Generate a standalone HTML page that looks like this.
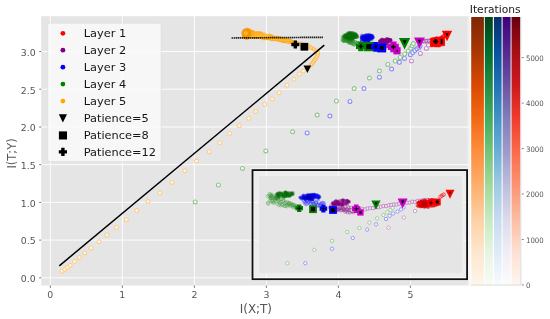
<!DOCTYPE html>
<html><head><meta charset="utf-8"><title>Information plane</title>
<style>html,body{margin:0;padding:0;background:#fff;}svg{display:block;filter:blur(0.4px);}</style></head>
<body>
<svg width="550" height="319" viewBox="0 0 550 319" font-family="'DejaVu Sans', 'Liberation Sans', sans-serif">
<defs>
<linearGradient id="Oranges" x1="0" y1="1" x2="0" y2="0">
<stop offset="0.000" stop-color="#fff5eb"/>
<stop offset="0.125" stop-color="#fee6ce"/>
<stop offset="0.250" stop-color="#fdd0a2"/>
<stop offset="0.375" stop-color="#fdae6b"/>
<stop offset="0.500" stop-color="#fd8d3c"/>
<stop offset="0.625" stop-color="#f16913"/>
<stop offset="0.750" stop-color="#d94801"/>
<stop offset="0.875" stop-color="#a63603"/>
<stop offset="1.000" stop-color="#7f2704"/>
</linearGradient>
<linearGradient id="Greens" x1="0" y1="1" x2="0" y2="0">
<stop offset="0.000" stop-color="#f7fcf5"/>
<stop offset="0.125" stop-color="#e5f5e0"/>
<stop offset="0.250" stop-color="#c7e9c0"/>
<stop offset="0.375" stop-color="#a1d99b"/>
<stop offset="0.500" stop-color="#74c476"/>
<stop offset="0.625" stop-color="#41ab5d"/>
<stop offset="0.750" stop-color="#238b45"/>
<stop offset="0.875" stop-color="#006d2c"/>
<stop offset="1.000" stop-color="#00441b"/>
</linearGradient>
<linearGradient id="Blues" x1="0" y1="1" x2="0" y2="0">
<stop offset="0.000" stop-color="#f7fbff"/>
<stop offset="0.125" stop-color="#deebf7"/>
<stop offset="0.250" stop-color="#c6dbef"/>
<stop offset="0.375" stop-color="#9ecae1"/>
<stop offset="0.500" stop-color="#6baed6"/>
<stop offset="0.625" stop-color="#4292c6"/>
<stop offset="0.750" stop-color="#2171b5"/>
<stop offset="0.875" stop-color="#08519c"/>
<stop offset="1.000" stop-color="#08306b"/>
</linearGradient>
<linearGradient id="Purples" x1="0" y1="1" x2="0" y2="0">
<stop offset="0.000" stop-color="#fcfbfd"/>
<stop offset="0.125" stop-color="#efedf5"/>
<stop offset="0.250" stop-color="#dadaeb"/>
<stop offset="0.375" stop-color="#bcbddc"/>
<stop offset="0.500" stop-color="#9e9ac8"/>
<stop offset="0.625" stop-color="#807dba"/>
<stop offset="0.750" stop-color="#6a51a3"/>
<stop offset="0.875" stop-color="#54278f"/>
<stop offset="1.000" stop-color="#3f007d"/>
</linearGradient>
<linearGradient id="Reds" x1="0" y1="1" x2="0" y2="0">
<stop offset="0.000" stop-color="#fff5f0"/>
<stop offset="0.125" stop-color="#fee0d2"/>
<stop offset="0.250" stop-color="#fcbba1"/>
<stop offset="0.375" stop-color="#fc9272"/>
<stop offset="0.500" stop-color="#fb6a4a"/>
<stop offset="0.625" stop-color="#ef3b2c"/>
<stop offset="0.750" stop-color="#cb181d"/>
<stop offset="0.875" stop-color="#a50f15"/>
<stop offset="1.000" stop-color="#67000d"/>
</linearGradient>
<clipPath id="axc"><rect x="41.2" y="16.2" width="428.3" height="269.3"/></clipPath>
</defs>
<rect width="550" height="319" fill="#fff"/>
<rect x="41.2" y="16.2" width="428.3" height="269.3" fill="#e5e5e5"/>
<line x1="50.3" y1="16.2" x2="50.3" y2="285.5" stroke="#fff" stroke-width="0.9"/>
<line x1="122.3" y1="16.2" x2="122.3" y2="285.5" stroke="#fff" stroke-width="0.9"/>
<line x1="194.4" y1="16.2" x2="194.4" y2="285.5" stroke="#fff" stroke-width="0.9"/>
<line x1="266.4" y1="16.2" x2="266.4" y2="285.5" stroke="#fff" stroke-width="0.9"/>
<line x1="338.4" y1="16.2" x2="338.4" y2="285.5" stroke="#fff" stroke-width="0.9"/>
<line x1="410.4" y1="16.2" x2="410.4" y2="285.5" stroke="#fff" stroke-width="0.9"/>
<line x1="41.2" y1="277.8" x2="469.5" y2="277.8" stroke="#fff" stroke-width="0.9"/>
<line x1="41.2" y1="240.1" x2="469.5" y2="240.1" stroke="#fff" stroke-width="0.9"/>
<line x1="41.2" y1="202.4" x2="469.5" y2="202.4" stroke="#fff" stroke-width="0.9"/>
<line x1="41.2" y1="164.7" x2="469.5" y2="164.7" stroke="#fff" stroke-width="0.9"/>
<line x1="41.2" y1="127.0" x2="469.5" y2="127.0" stroke="#fff" stroke-width="0.9"/>
<line x1="41.2" y1="89.2" x2="469.5" y2="89.2" stroke="#fff" stroke-width="0.9"/>
<line x1="41.2" y1="51.5" x2="469.5" y2="51.5" stroke="#fff" stroke-width="0.9"/>
<line x1="50.3" y1="285.5" x2="50.3" y2="287.9" stroke="#555" stroke-width="0.8"/>
<text x="50.3" y="298.2" font-size="9.4" fill="#555" text-anchor="middle">0</text>
<line x1="122.3" y1="285.5" x2="122.3" y2="287.9" stroke="#555" stroke-width="0.8"/>
<text x="122.3" y="298.2" font-size="9.4" fill="#555" text-anchor="middle">1</text>
<line x1="194.4" y1="285.5" x2="194.4" y2="287.9" stroke="#555" stroke-width="0.8"/>
<text x="194.4" y="298.2" font-size="9.4" fill="#555" text-anchor="middle">2</text>
<line x1="266.4" y1="285.5" x2="266.4" y2="287.9" stroke="#555" stroke-width="0.8"/>
<text x="266.4" y="298.2" font-size="9.4" fill="#555" text-anchor="middle">3</text>
<line x1="338.4" y1="285.5" x2="338.4" y2="287.9" stroke="#555" stroke-width="0.8"/>
<text x="338.4" y="298.2" font-size="9.4" fill="#555" text-anchor="middle">4</text>
<line x1="410.4" y1="285.5" x2="410.4" y2="287.9" stroke="#555" stroke-width="0.8"/>
<text x="410.4" y="298.2" font-size="9.4" fill="#555" text-anchor="middle">5</text>
<line x1="39.2" y1="277.8" x2="41.2" y2="277.8" stroke="#555" stroke-width="0.8"/>
<text x="35.7" y="282.1" font-size="9.4" fill="#555" text-anchor="end">0.0</text>
<line x1="39.2" y1="240.1" x2="41.2" y2="240.1" stroke="#555" stroke-width="0.8"/>
<text x="35.7" y="244.4" font-size="9.4" fill="#555" text-anchor="end">0.5</text>
<line x1="39.2" y1="202.4" x2="41.2" y2="202.4" stroke="#555" stroke-width="0.8"/>
<text x="35.7" y="206.7" font-size="9.4" fill="#555" text-anchor="end">1.0</text>
<line x1="39.2" y1="164.7" x2="41.2" y2="164.7" stroke="#555" stroke-width="0.8"/>
<text x="35.7" y="169.0" font-size="9.4" fill="#555" text-anchor="end">1.5</text>
<line x1="39.2" y1="127.0" x2="41.2" y2="127.0" stroke="#555" stroke-width="0.8"/>
<text x="35.7" y="131.3" font-size="9.4" fill="#555" text-anchor="end">2.0</text>
<line x1="39.2" y1="89.2" x2="41.2" y2="89.2" stroke="#555" stroke-width="0.8"/>
<text x="35.7" y="93.5" font-size="9.4" fill="#555" text-anchor="end">2.5</text>
<line x1="39.2" y1="51.5" x2="41.2" y2="51.5" stroke="#555" stroke-width="0.8"/>
<text x="35.7" y="55.8" font-size="9.4" fill="#555" text-anchor="end">3.0</text>
<text x="255.9" y="312.6" font-size="11.9" fill="#555" text-anchor="middle">I(X;T)</text>
<text transform="translate(16.3,153.4) rotate(-90)" font-size="11.5" fill="#555" text-anchor="middle">I(T;Y)</text>
<g clip-path="url(#axc)">
<circle cx="62.0" cy="271.2" r="1.95" fill="#fff6ea" stroke="#fbd08c" stroke-width="1.1"/>
<circle cx="64.8" cy="269.4" r="1.95" fill="#fff6ea" stroke="#fbd08c" stroke-width="1.1"/>
<circle cx="67.5" cy="267.4" r="1.95" fill="#fff6ea" stroke="#fbd08c" stroke-width="1.1"/>
<circle cx="70.2" cy="265.3" r="1.95" fill="#fff6ea" stroke="#fbd08c" stroke-width="1.1"/>
<circle cx="74.5" cy="261.5" r="1.95" fill="#fff6ea" stroke="#fbd08c" stroke-width="1.1"/>
<circle cx="79.4" cy="257.4" r="1.95" fill="#fff6ea" stroke="#fbd08c" stroke-width="1.1"/>
<circle cx="84.6" cy="253.0" r="1.95" fill="#fff6ea" stroke="#fbd08c" stroke-width="1.1"/>
<circle cx="91.1" cy="247.9" r="1.95" fill="#fff6ea" stroke="#fbd08c" stroke-width="1.1"/>
<circle cx="99.0" cy="241.7" r="1.95" fill="#fff6ea" stroke="#fbd08c" stroke-width="1.1"/>
<circle cx="106.9" cy="235.0" r="1.95" fill="#fff6ea" stroke="#fbd08c" stroke-width="1.1"/>
<circle cx="116.4" cy="227.4" r="1.95" fill="#fff6ea" stroke="#fbd08c" stroke-width="1.1"/>
<circle cx="126.3" cy="219.7" r="1.95" fill="#fff6ea" stroke="#fbd08c" stroke-width="1.1"/>
<circle cx="136.8" cy="210.6" r="1.95" fill="#fff6ea" stroke="#fbd08c" stroke-width="1.1"/>
<circle cx="148.1" cy="201.6" r="1.95" fill="#fff6ea" stroke="#fbd08c" stroke-width="1.1"/>
<circle cx="159.8" cy="192.8" r="1.95" fill="#fff6ea" stroke="#fbd08c" stroke-width="1.1"/>
<circle cx="172.0" cy="182.4" r="1.95" fill="#fff6ea" stroke="#fbd08c" stroke-width="1.1"/>
<circle cx="184.9" cy="170.8" r="1.95" fill="#fff6ea" stroke="#fbd08c" stroke-width="1.1"/>
<circle cx="196.5" cy="161.1" r="1.95" fill="#fff6ea" stroke="#fbd08c" stroke-width="1.1"/>
<circle cx="209.2" cy="151.7" r="1.95" fill="#fff6ea" stroke="#fbd08c" stroke-width="1.1"/>
<circle cx="219.8" cy="142.7" r="1.95" fill="#fff6ea" stroke="#fbd08c" stroke-width="1.1"/>
<circle cx="229.7" cy="133.5" r="1.95" fill="#fff6ea" stroke="#fbd08c" stroke-width="1.1"/>
<circle cx="239.4" cy="125.8" r="1.95" fill="#fff6ea" stroke="#fbd08c" stroke-width="1.1"/>
<circle cx="248.7" cy="118.3" r="1.95" fill="#fff6ea" stroke="#fbd08c" stroke-width="1.1"/>
<circle cx="255.8" cy="111.6" r="1.95" fill="#fff6ea" stroke="#fbd08c" stroke-width="1.1"/>
<circle cx="264.7" cy="104.3" r="1.95" fill="#fff6ea" stroke="#fbd08c" stroke-width="1.1"/>
<circle cx="272.2" cy="98.9" r="1.95" fill="#fff6ea" stroke="#fbd08c" stroke-width="1.1"/>
<circle cx="279.2" cy="92.7" r="1.95" fill="#fff6ea" stroke="#fbd08c" stroke-width="1.1"/>
<circle cx="287.1" cy="85.2" r="1.95" fill="#fff6ea" stroke="#fbd08c" stroke-width="1.1"/>
<circle cx="294.0" cy="79.3" r="1.95" fill="#fff6ea" stroke="#fbd08c" stroke-width="1.1"/>
<circle cx="299.5" cy="74.0" r="1.95" fill="#fff6ea" stroke="#fbd08c" stroke-width="1.1"/>
<circle cx="303.5" cy="71.1" r="1.95" fill="#fff6ea" stroke="#fbd08c" stroke-width="1.1"/>
<circle cx="307.5" cy="68.4" r="1.95" fill="#fff6ea" stroke="#fbd08c" stroke-width="1.1"/>
<circle cx="310.4" cy="65.6" r="1.75" fill="#ffe9c6" stroke="#fdb94a" stroke-width="1.0"/>
<circle cx="311.9" cy="63.9" r="1.75" fill="#ffe9c6" stroke="#fdb94a" stroke-width="1.0"/>
<circle cx="313.0" cy="62.4" r="1.75" fill="#ffe9c6" stroke="#fdb94a" stroke-width="1.0"/>
<circle cx="314.0" cy="61.0" r="1.75" fill="#ffe9c6" stroke="#fdb94a" stroke-width="1.0"/>
<circle cx="315.0" cy="59.6" r="1.75" fill="#ffe9c6" stroke="#fdb94a" stroke-width="1.0"/>
<circle cx="316.0" cy="58.2" r="1.75" fill="#ffe9c6" stroke="#fdb94a" stroke-width="1.0"/>
<circle cx="317.0" cy="56.5" r="1.75" fill="#ffe9c6" stroke="#fdb94a" stroke-width="1.0"/>
<circle cx="317.8" cy="54.6" r="1.75" fill="#ffe9c6" stroke="#fdb94a" stroke-width="1.0"/>
<circle cx="317.8" cy="52.6" r="1.75" fill="#ffe9c6" stroke="#fdb94a" stroke-width="1.0"/>
<circle cx="316.2" cy="50.9" r="1.75" fill="#ffe9c6" stroke="#fdb94a" stroke-width="1.0"/>
<circle cx="313.6" cy="49.2" r="1.75" fill="#ffd58f" stroke="#fdb94a" stroke-width="1.0"/>
<circle cx="311.0" cy="47.6" r="1.75" fill="#ffd58f" stroke="#fdb94a" stroke-width="1.0"/>
<circle cx="308.6" cy="46.2" r="1.75" fill="#ffd58f" stroke="#fdb94a" stroke-width="1.0"/>
<circle cx="306.0" cy="45.3" r="1.75" fill="#ffd58f" stroke="#fdb94a" stroke-width="1.0"/>
<circle cx="303.4" cy="44.6" r="1.75" fill="#ffd58f" stroke="#fdb94a" stroke-width="1.0"/>
<circle cx="300.8" cy="44.0" r="1.75" fill="#ffd58f" stroke="#fdb94a" stroke-width="1.0"/>
<circle cx="298.2" cy="43.4" r="1.75" fill="#ffd58f" stroke="#fdb94a" stroke-width="1.0"/>
<circle cx="295.6" cy="42.8" r="1.75" fill="#ffd58f" stroke="#fdb94a" stroke-width="1.0"/>
<circle cx="293.0" cy="42.2" r="1.75" fill="#ffd58f" stroke="#fdb94a" stroke-width="1.0"/>
<circle cx="290.4" cy="41.6" r="1.75" fill="#ffd58f" stroke="#fdb94a" stroke-width="1.0"/>
<circle cx="287.8" cy="41.0" r="1.75" fill="#ffd58f" stroke="#fdb94a" stroke-width="1.0"/>
<circle cx="285.2" cy="40.4" r="1.75" fill="#ffd58f" stroke="#fdb94a" stroke-width="1.0"/>
<circle cx="291.0" cy="42.1" r="2.3" fill="#ffa500" fill-opacity="0.5"/>
<circle cx="290.6" cy="41.8" r="2.3" fill="#ffa500" fill-opacity="0.5"/>
<circle cx="290.2" cy="42.0" r="2.3" fill="#ffa500" fill-opacity="0.5"/>
<circle cx="289.8" cy="41.4" r="2.3" fill="#ffa500" fill-opacity="0.5"/>
<circle cx="289.5" cy="41.7" r="2.3" fill="#ffa500" fill-opacity="0.5"/>
<circle cx="289.1" cy="41.5" r="2.3" fill="#ffa500" fill-opacity="0.5"/>
<circle cx="288.7" cy="41.1" r="2.3" fill="#ffa500" fill-opacity="0.5"/>
<circle cx="288.3" cy="41.4" r="2.3" fill="#ffa500" fill-opacity="0.5"/>
<circle cx="287.9" cy="40.8" r="2.3" fill="#ffa500" fill-opacity="0.5"/>
<circle cx="287.5" cy="41.1" r="2.3" fill="#ffa500" fill-opacity="0.5"/>
<circle cx="287.1" cy="40.6" r="2.3" fill="#ffa500" fill-opacity="0.5"/>
<circle cx="286.8" cy="40.5" r="2.3" fill="#ffa500" fill-opacity="0.5"/>
<circle cx="286.4" cy="40.8" r="2.3" fill="#ffa500" fill-opacity="0.5"/>
<circle cx="286.0" cy="41.2" r="2.3" fill="#ffa500" fill-opacity="0.5"/>
<circle cx="285.6" cy="40.3" r="2.3" fill="#ffa500" fill-opacity="0.5"/>
<circle cx="285.2" cy="40.3" r="2.3" fill="#ffa500" fill-opacity="0.5"/>
<circle cx="284.8" cy="40.7" r="2.3" fill="#ffa500" fill-opacity="0.5"/>
<circle cx="284.4" cy="41.0" r="2.3" fill="#ffa500" fill-opacity="0.5"/>
<circle cx="284.1" cy="40.4" r="2.3" fill="#ffa500" fill-opacity="0.5"/>
<circle cx="283.7" cy="40.1" r="2.3" fill="#ffa500" fill-opacity="0.5"/>
<circle cx="283.3" cy="40.8" r="2.3" fill="#ffa500" fill-opacity="0.5"/>
<circle cx="282.9" cy="39.4" r="2.3" fill="#ffa500" fill-opacity="0.5"/>
<circle cx="282.5" cy="40.5" r="2.3" fill="#ffa500" fill-opacity="0.5"/>
<circle cx="282.1" cy="39.6" r="2.3" fill="#ffa500" fill-opacity="0.5"/>
<circle cx="281.8" cy="39.3" r="2.3" fill="#ffa500" fill-opacity="0.5"/>
<circle cx="281.4" cy="39.1" r="2.3" fill="#ffa500" fill-opacity="0.5"/>
<circle cx="281.0" cy="39.3" r="2.3" fill="#ffa500" fill-opacity="0.5"/>
<circle cx="280.6" cy="40.1" r="2.3" fill="#ffa500" fill-opacity="0.5"/>
<circle cx="280.2" cy="38.9" r="2.3" fill="#ffa500" fill-opacity="0.5"/>
<circle cx="279.8" cy="39.6" r="2.3" fill="#ffa500" fill-opacity="0.5"/>
<circle cx="279.4" cy="39.6" r="2.3" fill="#ffa500" fill-opacity="0.5"/>
<circle cx="279.1" cy="39.0" r="2.3" fill="#ffa500" fill-opacity="0.5"/>
<circle cx="278.7" cy="39.3" r="2.3" fill="#ffa500" fill-opacity="0.5"/>
<circle cx="278.3" cy="38.2" r="2.3" fill="#ffa500" fill-opacity="0.5"/>
<circle cx="277.9" cy="38.1" r="2.3" fill="#ffa500" fill-opacity="0.5"/>
<circle cx="277.5" cy="38.3" r="2.3" fill="#ffa500" fill-opacity="0.5"/>
<circle cx="277.1" cy="39.2" r="2.3" fill="#ffa500" fill-opacity="0.5"/>
<circle cx="276.7" cy="38.6" r="2.3" fill="#ffa500" fill-opacity="0.5"/>
<circle cx="276.4" cy="38.3" r="2.3" fill="#ffa500" fill-opacity="0.5"/>
<circle cx="276.0" cy="38.8" r="2.3" fill="#ffa500" fill-opacity="0.5"/>
<circle cx="275.6" cy="38.4" r="2.3" fill="#ffa500" fill-opacity="0.5"/>
<circle cx="275.2" cy="38.0" r="2.3" fill="#ffa500" fill-opacity="0.5"/>
<circle cx="274.8" cy="39.1" r="2.3" fill="#ffa500" fill-opacity="0.5"/>
<circle cx="274.4" cy="38.8" r="2.3" fill="#ffa500" fill-opacity="0.5"/>
<circle cx="274.0" cy="37.6" r="2.3" fill="#ffa500" fill-opacity="0.5"/>
<circle cx="273.7" cy="38.3" r="2.3" fill="#ffa500" fill-opacity="0.5"/>
<circle cx="273.3" cy="38.1" r="2.3" fill="#ffa500" fill-opacity="0.5"/>
<circle cx="272.9" cy="39.0" r="2.3" fill="#ffa500" fill-opacity="0.5"/>
<circle cx="272.5" cy="38.5" r="2.3" fill="#ffa500" fill-opacity="0.5"/>
<circle cx="272.1" cy="37.3" r="2.3" fill="#ffa500" fill-opacity="0.5"/>
<circle cx="271.7" cy="39.1" r="2.3" fill="#ffa500" fill-opacity="0.5"/>
<circle cx="271.3" cy="36.6" r="2.3" fill="#ffa500" fill-opacity="0.5"/>
<circle cx="271.0" cy="37.4" r="2.3" fill="#ffa500" fill-opacity="0.5"/>
<circle cx="270.6" cy="38.3" r="2.3" fill="#ffa500" fill-opacity="0.5"/>
<circle cx="270.2" cy="36.4" r="2.3" fill="#ffa500" fill-opacity="0.5"/>
<circle cx="269.8" cy="37.4" r="2.3" fill="#ffa500" fill-opacity="0.5"/>
<circle cx="269.4" cy="35.9" r="2.3" fill="#ffa500" fill-opacity="0.5"/>
<circle cx="269.0" cy="37.8" r="2.3" fill="#ffa500" fill-opacity="0.5"/>
<circle cx="268.7" cy="38.0" r="2.3" fill="#ffa500" fill-opacity="0.5"/>
<circle cx="268.3" cy="37.3" r="2.3" fill="#ffa500" fill-opacity="0.5"/>
<circle cx="267.9" cy="38.3" r="2.3" fill="#ffa500" fill-opacity="0.5"/>
<circle cx="267.5" cy="36.3" r="2.3" fill="#ffa500" fill-opacity="0.5"/>
<circle cx="267.1" cy="37.5" r="2.3" fill="#ffa500" fill-opacity="0.5"/>
<circle cx="266.7" cy="37.1" r="2.3" fill="#ffa500" fill-opacity="0.5"/>
<circle cx="266.3" cy="37.0" r="2.3" fill="#ffa500" fill-opacity="0.5"/>
<circle cx="266.0" cy="36.5" r="2.3" fill="#ffa500" fill-opacity="0.5"/>
<circle cx="265.6" cy="37.8" r="2.3" fill="#ffa500" fill-opacity="0.5"/>
<circle cx="265.2" cy="38.1" r="2.3" fill="#ffa500" fill-opacity="0.5"/>
<circle cx="264.8" cy="36.3" r="2.3" fill="#ffa500" fill-opacity="0.5"/>
<circle cx="264.4" cy="37.0" r="2.3" fill="#ffa500" fill-opacity="0.5"/>
<circle cx="264.0" cy="34.6" r="2.3" fill="#ffa500" fill-opacity="0.5"/>
<circle cx="263.6" cy="37.0" r="2.3" fill="#ffa500" fill-opacity="0.5"/>
<circle cx="263.3" cy="36.7" r="2.3" fill="#ffa500" fill-opacity="0.5"/>
<circle cx="262.9" cy="38.1" r="2.3" fill="#ffa500" fill-opacity="0.5"/>
<circle cx="262.5" cy="37.3" r="2.3" fill="#ffa500" fill-opacity="0.5"/>
<circle cx="262.1" cy="35.1" r="2.3" fill="#ffa500" fill-opacity="0.5"/>
<circle cx="261.7" cy="35.4" r="2.3" fill="#ffa500" fill-opacity="0.5"/>
<circle cx="261.3" cy="36.5" r="2.3" fill="#ffa500" fill-opacity="0.5"/>
<circle cx="260.9" cy="33.7" r="2.3" fill="#ffa500" fill-opacity="0.5"/>
<circle cx="260.6" cy="35.5" r="2.3" fill="#ffa500" fill-opacity="0.5"/>
<circle cx="260.2" cy="34.1" r="2.3" fill="#ffa500" fill-opacity="0.5"/>
<circle cx="259.8" cy="33.8" r="2.3" fill="#ffa500" fill-opacity="0.5"/>
<circle cx="259.4" cy="33.5" r="2.3" fill="#ffa500" fill-opacity="0.5"/>
<circle cx="259.0" cy="36.6" r="2.3" fill="#ffa500" fill-opacity="0.5"/>
<circle cx="258.6" cy="33.6" r="2.3" fill="#ffa500" fill-opacity="0.5"/>
<circle cx="258.2" cy="34.1" r="2.3" fill="#ffa500" fill-opacity="0.5"/>
<circle cx="257.9" cy="34.6" r="2.3" fill="#ffa500" fill-opacity="0.5"/>
<circle cx="257.5" cy="36.9" r="2.3" fill="#ffa500" fill-opacity="0.5"/>
<circle cx="257.1" cy="33.0" r="2.3" fill="#ffa500" fill-opacity="0.5"/>
<circle cx="256.7" cy="34.7" r="2.3" fill="#ffa500" fill-opacity="0.5"/>
<circle cx="256.3" cy="35.1" r="2.3" fill="#ffa500" fill-opacity="0.5"/>
<circle cx="255.9" cy="36.8" r="2.3" fill="#ffa500" fill-opacity="0.5"/>
<circle cx="255.6" cy="36.4" r="2.3" fill="#ffa500" fill-opacity="0.5"/>
<circle cx="255.2" cy="36.6" r="2.3" fill="#ffa500" fill-opacity="0.5"/>
<circle cx="254.8" cy="33.5" r="2.3" fill="#ffa500" fill-opacity="0.5"/>
<circle cx="254.4" cy="34.1" r="2.3" fill="#ffa500" fill-opacity="0.5"/>
<circle cx="254.0" cy="33.7" r="2.3" fill="#ffa500" fill-opacity="0.5"/>
<circle cx="253.6" cy="36.5" r="2.3" fill="#ffa500" fill-opacity="0.5"/>
<circle cx="253.2" cy="36.9" r="2.3" fill="#ffa500" fill-opacity="0.5"/>
<circle cx="252.9" cy="32.3" r="2.3" fill="#ffa500" fill-opacity="0.5"/>
<circle cx="252.5" cy="32.4" r="2.3" fill="#ffa500" fill-opacity="0.5"/>
<circle cx="252.1" cy="32.6" r="2.3" fill="#ffa500" fill-opacity="0.5"/>
<circle cx="251.7" cy="32.5" r="2.3" fill="#ffa500" fill-opacity="0.5"/>
<circle cx="251.3" cy="33.9" r="2.3" fill="#ffa500" fill-opacity="0.5"/>
<circle cx="250.9" cy="34.5" r="2.3" fill="#ffa500" fill-opacity="0.5"/>
<circle cx="250.5" cy="32.5" r="2.3" fill="#ffa500" fill-opacity="0.5"/>
<circle cx="250.2" cy="30.8" r="2.3" fill="#ffa500" fill-opacity="0.5"/>
<circle cx="249.8" cy="33.2" r="2.3" fill="#ffa500" fill-opacity="0.5"/>
<circle cx="249.4" cy="32.9" r="2.3" fill="#ffa500" fill-opacity="0.5"/>
<circle cx="249.0" cy="34.0" r="2.3" fill="#ffa500" fill-opacity="0.5"/>
<circle cx="248.4" cy="32.8" r="2.5" fill="#f79600" fill-opacity="0.4"/>
<circle cx="244.4" cy="33.5" r="2.5" fill="#f79600" fill-opacity="0.4"/>
<circle cx="246.1" cy="33.0" r="2.5" fill="#f79600" fill-opacity="0.4"/>
<circle cx="248.2" cy="31.7" r="2.5" fill="#f79600" fill-opacity="0.4"/>
<circle cx="248.0" cy="31.2" r="2.5" fill="#f79600" fill-opacity="0.4"/>
<circle cx="245.1" cy="35.4" r="2.5" fill="#f79600" fill-opacity="0.4"/>
<circle cx="248.0" cy="35.8" r="2.5" fill="#f79600" fill-opacity="0.4"/>
<circle cx="247.0" cy="34.2" r="2.5" fill="#f79600" fill-opacity="0.4"/>
<circle cx="246.7" cy="35.4" r="2.5" fill="#f79600" fill-opacity="0.4"/>
<circle cx="246.1" cy="34.6" r="2.5" fill="#f79600" fill-opacity="0.4"/>
<circle cx="247.4" cy="33.8" r="2.5" fill="#f79600" fill-opacity="0.4"/>
<circle cx="247.6" cy="35.3" r="2.5" fill="#f79600" fill-opacity="0.4"/>
<circle cx="248.8" cy="34.4" r="2.5" fill="#f79600" fill-opacity="0.4"/>
<circle cx="245.7" cy="32.8" r="2.5" fill="#f79600" fill-opacity="0.4"/>
<circle cx="246.4" cy="36.2" r="2.5" fill="#f79600" fill-opacity="0.4"/>
<circle cx="245.8" cy="34.9" r="2.5" fill="#f79600" fill-opacity="0.4"/>
<circle cx="247.9" cy="30.5" r="2.5" fill="#f79600" fill-opacity="0.4"/>
<circle cx="244.7" cy="34.4" r="2.5" fill="#f79600" fill-opacity="0.4"/>
<circle cx="247.1" cy="34.5" r="2.5" fill="#f79600" fill-opacity="0.4"/>
<circle cx="245.7" cy="35.6" r="2.5" fill="#f79600" fill-opacity="0.4"/>
<circle cx="246.9" cy="32.4" r="2.5" fill="#f79600" fill-opacity="0.4"/>
<circle cx="248.9" cy="34.4" r="2.5" fill="#f79600" fill-opacity="0.4"/>
<circle cx="245.4" cy="33.5" r="2.5" fill="#f79600" fill-opacity="0.4"/>
<circle cx="246.0" cy="33.6" r="2.5" fill="#f79600" fill-opacity="0.4"/>
<circle cx="243.9" cy="33.1" r="2.5" fill="#f79600" fill-opacity="0.4"/>
<circle cx="247.8" cy="31.2" r="2.5" fill="#f79600" fill-opacity="0.4"/>
<circle cx="246.3" cy="36.3" r="2.5" fill="#f79600" fill-opacity="0.4"/>
<circle cx="247.5" cy="36.9" r="2.5" fill="#f79600" fill-opacity="0.4"/>
<circle cx="244.2" cy="33.1" r="2.5" fill="#f79600" fill-opacity="0.4"/>
<circle cx="245.8" cy="35.5" r="2.5" fill="#f79600" fill-opacity="0.4"/>
<circle cx="247.4" cy="30.0" r="2.5" fill="#f79600" fill-opacity="0.4"/>
<circle cx="247.8" cy="30.9" r="2.5" fill="#f79600" fill-opacity="0.4"/>
<circle cx="247.3" cy="30.6" r="2.5" fill="#f79600" fill-opacity="0.4"/>
<circle cx="246.7" cy="36.7" r="2.5" fill="#f79600" fill-opacity="0.4"/>
<circle cx="246.1" cy="34.3" r="2.5" fill="#f79600" fill-opacity="0.4"/>
<circle cx="247.7" cy="34.2" r="2.5" fill="#f79600" fill-opacity="0.4"/>
<circle cx="246.3" cy="37.2" r="2.5" fill="#f79600" fill-opacity="0.4"/>
<circle cx="248.0" cy="33.1" r="2.5" fill="#f79600" fill-opacity="0.4"/>
<circle cx="248.7" cy="32.2" r="2.5" fill="#f79600" fill-opacity="0.4"/>
<circle cx="247.9" cy="33.1" r="2.5" fill="#f79600" fill-opacity="0.4"/>
<circle cx="246.6" cy="35.7" r="2.5" fill="#f79600" fill-opacity="0.4"/>
<circle cx="246.8" cy="35.5" r="2.5" fill="#f79600" fill-opacity="0.4"/>
<circle cx="244.7" cy="31.1" r="2.5" fill="#f79600" fill-opacity="0.4"/>
<circle cx="247.4" cy="31.4" r="2.5" fill="#f79600" fill-opacity="0.4"/>
<circle cx="245.1" cy="30.8" r="2.5" fill="#f79600" fill-opacity="0.4"/>
<circle cx="248.2" cy="35.5" r="2.5" fill="#f79600" fill-opacity="0.4"/>
<circle cx="248.3" cy="31.9" r="2.5" fill="#f79600" fill-opacity="0.4"/>
<circle cx="246.4" cy="31.0" r="2.5" fill="#f79600" fill-opacity="0.4"/>
<circle cx="247.4" cy="37.1" r="2.5" fill="#f79600" fill-opacity="0.4"/>
<circle cx="245.3" cy="37.0" r="2.5" fill="#f79600" fill-opacity="0.4"/>
<circle cx="248.0" cy="33.3" r="2.5" fill="#f79600" fill-opacity="0.4"/>
<circle cx="244.4" cy="36.1" r="2.5" fill="#f79600" fill-opacity="0.4"/>
<circle cx="246.2" cy="32.1" r="2.5" fill="#f79600" fill-opacity="0.4"/>
<circle cx="247.1" cy="34.9" r="2.5" fill="#f79600" fill-opacity="0.4"/>
<circle cx="248.3" cy="31.7" r="2.5" fill="#f79600" fill-opacity="0.4"/>
<circle cx="247.8" cy="36.7" r="2.5" fill="#f79600" fill-opacity="0.4"/>
<circle cx="248.5" cy="33.4" r="2.5" fill="#f79600" fill-opacity="0.4"/>
<circle cx="245.3" cy="36.2" r="2.5" fill="#f79600" fill-opacity="0.4"/>
<circle cx="246.6" cy="34.2" r="2.5" fill="#f79600" fill-opacity="0.4"/>
<circle cx="248.4" cy="33.2" r="2.5" fill="#f79600" fill-opacity="0.4"/>
<circle cx="244.0" cy="33.1" r="2.5" fill="#f79600" fill-opacity="0.4"/>
<circle cx="244.2" cy="35.3" r="2.5" fill="#f79600" fill-opacity="0.4"/>
<circle cx="246.9" cy="32.1" r="2.5" fill="#f79600" fill-opacity="0.4"/>
<circle cx="246.4" cy="36.0" r="2.5" fill="#f79600" fill-opacity="0.4"/>
<circle cx="246.5" cy="36.9" r="2.5" fill="#f79600" fill-opacity="0.4"/>
<circle cx="246.3" cy="36.4" r="2.5" fill="#f79600" fill-opacity="0.4"/>
<circle cx="248.1" cy="36.7" r="2.5" fill="#f79600" fill-opacity="0.4"/>
<circle cx="245.4" cy="36.0" r="2.5" fill="#f79600" fill-opacity="0.4"/>
<circle cx="244.3" cy="31.9" r="2.5" fill="#f79600" fill-opacity="0.4"/>
<circle cx="244.3" cy="35.7" r="2.5" fill="#f79600" fill-opacity="0.4"/>
<circle cx="290.0" cy="42.0" r="1.7" fill="none" stroke="#ffc766" stroke-width="0.6" opacity="0.7"/>
<circle cx="288.3" cy="41.5" r="1.7" fill="none" stroke="#ffc766" stroke-width="0.6" opacity="0.7"/>
<circle cx="286.6" cy="41.0" r="1.7" fill="none" stroke="#ffc766" stroke-width="0.6" opacity="0.7"/>
<circle cx="284.9" cy="39.4" r="1.7" fill="none" stroke="#ffc766" stroke-width="0.6" opacity="0.7"/>
<circle cx="283.1" cy="40.0" r="1.7" fill="none" stroke="#ffc766" stroke-width="0.6" opacity="0.7"/>
<circle cx="281.4" cy="39.0" r="1.7" fill="none" stroke="#ffc766" stroke-width="0.6" opacity="0.7"/>
<circle cx="279.7" cy="38.2" r="1.7" fill="none" stroke="#ffc766" stroke-width="0.6" opacity="0.7"/>
<circle cx="278.0" cy="39.7" r="1.7" fill="none" stroke="#ffc766" stroke-width="0.6" opacity="0.7"/>
<circle cx="276.3" cy="37.9" r="1.7" fill="none" stroke="#ffc766" stroke-width="0.6" opacity="0.7"/>
<circle cx="274.6" cy="38.2" r="1.7" fill="none" stroke="#ffc766" stroke-width="0.6" opacity="0.7"/>
<circle cx="272.9" cy="38.5" r="1.7" fill="none" stroke="#ffc766" stroke-width="0.6" opacity="0.7"/>
<circle cx="271.1" cy="37.7" r="1.7" fill="none" stroke="#ffc766" stroke-width="0.6" opacity="0.7"/>
<circle cx="269.4" cy="36.9" r="1.7" fill="none" stroke="#ffc766" stroke-width="0.6" opacity="0.7"/>
<circle cx="267.7" cy="37.0" r="1.7" fill="none" stroke="#ffc766" stroke-width="0.6" opacity="0.7"/>
<circle cx="266.0" cy="36.7" r="1.7" fill="none" stroke="#ffc766" stroke-width="0.6" opacity="0.7"/>
<circle cx="264.3" cy="37.0" r="1.7" fill="none" stroke="#ffc766" stroke-width="0.6" opacity="0.7"/>
<circle cx="262.6" cy="35.0" r="1.7" fill="none" stroke="#ffc766" stroke-width="0.6" opacity="0.7"/>
<circle cx="260.9" cy="35.8" r="1.7" fill="none" stroke="#ffc766" stroke-width="0.6" opacity="0.7"/>
<circle cx="259.1" cy="34.7" r="1.7" fill="none" stroke="#ffc766" stroke-width="0.6" opacity="0.7"/>
<circle cx="257.4" cy="34.5" r="1.7" fill="none" stroke="#ffc766" stroke-width="0.6" opacity="0.7"/>
<circle cx="255.7" cy="35.4" r="1.7" fill="none" stroke="#ffc766" stroke-width="0.6" opacity="0.7"/>
<circle cx="254.0" cy="34.4" r="1.7" fill="none" stroke="#ffc766" stroke-width="0.6" opacity="0.7"/>
<circle cx="245.8" cy="33.2" r="1.6" fill="#ffae1a" stroke="#ffbe4d" stroke-width="0.9"/>
<line x1="59.3" y1="265.8" x2="324.3" y2="45.2" stroke="#000" stroke-width="1.5"/>
<line x1="231.6" y1="38.0" x2="323.4" y2="37.3" stroke="#000" stroke-width="1.7" stroke-dasharray="1.25 0.75"/>
<circle cx="195.2" cy="201.9" r="1.95" fill="#f5fbf3" stroke="#8cc68c" stroke-width="1.1"/>
<circle cx="218.4" cy="185.0" r="1.95" fill="#f5fbf3" stroke="#8cc68c" stroke-width="1.1"/>
<circle cx="242.5" cy="168.4" r="1.95" fill="#f5fbf3" stroke="#8cc68c" stroke-width="1.1"/>
<circle cx="265.8" cy="150.9" r="1.95" fill="#f5fbf3" stroke="#8cc68c" stroke-width="1.1"/>
<circle cx="292.6" cy="131.8" r="1.95" fill="#f5fbf3" stroke="#8cc68c" stroke-width="1.1"/>
<circle cx="317.2" cy="115.1" r="1.95" fill="#f5fbf3" stroke="#8cc68c" stroke-width="1.1"/>
<circle cx="336.4" cy="101.0" r="1.95" fill="#f5fbf3" stroke="#8cc68c" stroke-width="1.1"/>
<circle cx="354.1" cy="88.6" r="1.95" fill="#f5fbf3" stroke="#8cc68c" stroke-width="1.1"/>
<circle cx="369.5" cy="78.1" r="1.95" fill="#f5fbf3" stroke="#8cc68c" stroke-width="1.1"/>
<circle cx="379.4" cy="71.1" r="1.95" fill="#f5fbf3" stroke="#8cc68c" stroke-width="1.1"/>
<circle cx="387.8" cy="64.4" r="1.95" fill="#f5fbf3" stroke="#8cc68c" stroke-width="1.1"/>
<circle cx="395.2" cy="61.0" r="1.95" fill="#f5fbf3" stroke="#8cc68c" stroke-width="1.1"/>
<circle cx="400.2" cy="57.4" r="1.95" fill="#f5fbf3" stroke="#8cc68c" stroke-width="1.1"/>
<circle cx="404.6" cy="54.0" r="1.95" fill="#f5fbf3" stroke="#8cc68c" stroke-width="1.1"/>
<circle cx="408.2" cy="51.0" r="1.95" fill="#f5fbf3" stroke="#8cc68c" stroke-width="1.1"/>
<circle cx="410.6" cy="48.3" r="1.95" fill="#f5fbf3" stroke="#8cc68c" stroke-width="1.1"/>
<circle cx="412.2" cy="45.7" r="1.95" fill="#f5fbf3" stroke="#8cc68c" stroke-width="1.1"/>
<circle cx="413.4" cy="43.6" r="1.95" fill="#f5fbf3" stroke="#8cc68c" stroke-width="1.1"/>
<circle cx="307.1" cy="133.0" r="1.95" fill="#f5f9ff" stroke="#8a8af2" stroke-width="1.1"/>
<circle cx="329.9" cy="116.1" r="1.95" fill="#f5f9ff" stroke="#8a8af2" stroke-width="1.1"/>
<circle cx="350.0" cy="101.4" r="1.95" fill="#f5f9ff" stroke="#8a8af2" stroke-width="1.1"/>
<circle cx="364.0" cy="88.6" r="1.95" fill="#f5f9ff" stroke="#8a8af2" stroke-width="1.1"/>
<circle cx="379.4" cy="77.2" r="1.95" fill="#f5f9ff" stroke="#8a8af2" stroke-width="1.1"/>
<circle cx="391.6" cy="69.1" r="1.95" fill="#f5f9ff" stroke="#8a8af2" stroke-width="1.1"/>
<circle cx="399.4" cy="62.3" r="1.95" fill="#f5f9ff" stroke="#8a8af2" stroke-width="1.1"/>
<circle cx="404.5" cy="58.4" r="1.95" fill="#f5f9ff" stroke="#8a8af2" stroke-width="1.1"/>
<circle cx="410.4" cy="54.7" r="1.95" fill="#f5f9ff" stroke="#8a8af2" stroke-width="1.1"/>
<circle cx="412.8" cy="52.5" r="1.95" fill="#f5f9ff" stroke="#8a8af2" stroke-width="1.1"/>
<circle cx="414.9" cy="50.5" r="1.95" fill="#f5f9ff" stroke="#8a8af2" stroke-width="1.1"/>
<circle cx="417.0" cy="48.8" r="1.95" fill="#f5f9ff" stroke="#8a8af2" stroke-width="1.1"/>
<circle cx="418.8" cy="47.4" r="1.95" fill="#f5f9ff" stroke="#8a8af2" stroke-width="1.1"/>
<circle cx="420.0" cy="46.0" r="1.95" fill="#f5f9ff" stroke="#8a8af2" stroke-width="1.1"/>
<circle cx="411.5" cy="60.9" r="1.95" fill="#fcfafd" stroke="#c48fc4" stroke-width="1.1"/>
<circle cx="420.4" cy="53.4" r="1.95" fill="#fcfafd" stroke="#c48fc4" stroke-width="1.1"/>
<circle cx="426.4" cy="48.4" r="1.95" fill="#fcfafd" stroke="#c48fc4" stroke-width="1.1"/>
<circle cx="428.4" cy="45.0" r="1.95" fill="#fcfafd" stroke="#c48fc4" stroke-width="1.1"/>
<circle cx="427.4" cy="42.0" r="1.95" fill="#fcfafd" stroke="#c48fc4" stroke-width="1.1"/>
<circle cx="343.0" cy="39.7" r="1.8" fill="none" stroke="#3d9a3d" stroke-width="0.8" opacity="0.8"/>
<circle cx="343.6" cy="40.3" r="1.8" fill="none" stroke="#3d9a3d" stroke-width="0.8" opacity="0.8"/>
<circle cx="344.3" cy="40.9" r="1.8" fill="none" stroke="#3d9a3d" stroke-width="0.8" opacity="0.8"/>
<circle cx="344.9" cy="39.6" r="1.8" fill="none" stroke="#3d9a3d" stroke-width="0.8" opacity="0.8"/>
<circle cx="345.6" cy="40.2" r="1.8" fill="none" stroke="#3d9a3d" stroke-width="0.8" opacity="0.8"/>
<circle cx="346.2" cy="40.1" r="1.8" fill="none" stroke="#3d9a3d" stroke-width="0.8" opacity="0.8"/>
<circle cx="346.8" cy="40.2" r="1.8" fill="none" stroke="#3d9a3d" stroke-width="0.8" opacity="0.8"/>
<circle cx="347.5" cy="41.0" r="1.8" fill="none" stroke="#3d9a3d" stroke-width="0.8" opacity="0.8"/>
<circle cx="348.1" cy="40.4" r="1.8" fill="none" stroke="#3d9a3d" stroke-width="0.8" opacity="0.8"/>
<circle cx="348.8" cy="40.9" r="1.8" fill="none" stroke="#3d9a3d" stroke-width="0.8" opacity="0.8"/>
<circle cx="349.4" cy="41.0" r="1.8" fill="none" stroke="#3d9a3d" stroke-width="0.8" opacity="0.8"/>
<circle cx="350.0" cy="42.6" r="1.8" fill="none" stroke="#3d9a3d" stroke-width="0.8" opacity="0.8"/>
<circle cx="350.7" cy="42.1" r="1.8" fill="none" stroke="#3d9a3d" stroke-width="0.8" opacity="0.8"/>
<circle cx="351.3" cy="42.9" r="1.8" fill="none" stroke="#3d9a3d" stroke-width="0.8" opacity="0.8"/>
<circle cx="352.0" cy="43.3" r="1.8" fill="none" stroke="#3d9a3d" stroke-width="0.8" opacity="0.8"/>
<circle cx="352.6" cy="41.6" r="1.8" fill="none" stroke="#3d9a3d" stroke-width="0.8" opacity="0.8"/>
<circle cx="353.2" cy="42.8" r="1.8" fill="none" stroke="#3d9a3d" stroke-width="0.8" opacity="0.8"/>
<circle cx="353.9" cy="44.2" r="1.8" fill="none" stroke="#3d9a3d" stroke-width="0.8" opacity="0.8"/>
<circle cx="354.5" cy="44.2" r="1.8" fill="none" stroke="#3d9a3d" stroke-width="0.8" opacity="0.8"/>
<circle cx="355.2" cy="42.4" r="1.8" fill="none" stroke="#3d9a3d" stroke-width="0.8" opacity="0.8"/>
<circle cx="355.8" cy="42.7" r="1.8" fill="none" stroke="#3d9a3d" stroke-width="0.8" opacity="0.8"/>
<circle cx="356.4" cy="43.9" r="1.8" fill="none" stroke="#3d9a3d" stroke-width="0.8" opacity="0.8"/>
<circle cx="357.1" cy="43.2" r="1.8" fill="none" stroke="#3d9a3d" stroke-width="0.8" opacity="0.8"/>
<circle cx="357.7" cy="44.0" r="1.8" fill="none" stroke="#3d9a3d" stroke-width="0.8" opacity="0.8"/>
<circle cx="358.4" cy="43.9" r="1.8" fill="none" stroke="#3d9a3d" stroke-width="0.8" opacity="0.8"/>
<circle cx="359.0" cy="46.0" r="1.8" fill="none" stroke="#3d9a3d" stroke-width="0.8" opacity="0.8"/>
<circle cx="348.6" cy="34.3" r="2.0" fill="#2a8a2a" fill-opacity="0.35"/>
<circle cx="350.1" cy="41.6" r="2.0" fill="#2a8a2a" fill-opacity="0.35"/>
<circle cx="346.4" cy="37.1" r="2.0" fill="#2a8a2a" fill-opacity="0.35"/>
<circle cx="351.5" cy="35.5" r="2.0" fill="#2a8a2a" fill-opacity="0.35"/>
<circle cx="348.5" cy="42.8" r="2.0" fill="#2a8a2a" fill-opacity="0.35"/>
<circle cx="344.4" cy="40.4" r="2.0" fill="#2a8a2a" fill-opacity="0.35"/>
<circle cx="352.5" cy="38.2" r="2.0" fill="#2a8a2a" fill-opacity="0.35"/>
<circle cx="349.4" cy="41.0" r="2.0" fill="#2a8a2a" fill-opacity="0.35"/>
<circle cx="344.3" cy="38.2" r="2.0" fill="#2a8a2a" fill-opacity="0.35"/>
<circle cx="348.5" cy="40.9" r="2.0" fill="#2a8a2a" fill-opacity="0.35"/>
<circle cx="347.4" cy="37.9" r="2.0" fill="#2a8a2a" fill-opacity="0.35"/>
<circle cx="344.1" cy="37.5" r="2.0" fill="#2a8a2a" fill-opacity="0.35"/>
<circle cx="350.6" cy="38.8" r="2.0" fill="#2a8a2a" fill-opacity="0.35"/>
<circle cx="344.7" cy="36.2" r="2.0" fill="#2a8a2a" fill-opacity="0.35"/>
<circle cx="352.5" cy="40.3" r="2.0" fill="#2a8a2a" fill-opacity="0.35"/>
<circle cx="348.8" cy="34.2" r="2.0" fill="#2a8a2a" fill-opacity="0.35"/>
<circle cx="349.7" cy="39.9" r="2.0" fill="#2a8a2a" fill-opacity="0.35"/>
<circle cx="352.2" cy="39.5" r="2.0" fill="#2a8a2a" fill-opacity="0.35"/>
<circle cx="347.2" cy="40.1" r="2.0" fill="#2a8a2a" fill-opacity="0.35"/>
<circle cx="342.9" cy="40.5" r="2.0" fill="#2a8a2a" fill-opacity="0.35"/>
<circle cx="348.7" cy="36.4" r="2.0" fill="#2a8a2a" fill-opacity="0.35"/>
<circle cx="350.6" cy="42.0" r="2.0" fill="#2a8a2a" fill-opacity="0.35"/>
<circle cx="343.3" cy="36.9" r="2.0" fill="#2a8a2a" fill-opacity="0.35"/>
<circle cx="348.6" cy="39.1" r="2.0" fill="#2a8a2a" fill-opacity="0.35"/>
<circle cx="346.1" cy="35.8" r="2.0" fill="#2a8a2a" fill-opacity="0.35"/>
<circle cx="352.3" cy="40.4" r="2.0" fill="#2a8a2a" fill-opacity="0.35"/>
<circle cx="344.2" cy="35.5" r="2.0" fill="#2a8a2a" fill-opacity="0.35"/>
<circle cx="351.9" cy="40.6" r="2.0" fill="#2a8a2a" fill-opacity="0.35"/>
<circle cx="352.2" cy="40.2" r="2.0" fill="#2a8a2a" fill-opacity="0.35"/>
<circle cx="344.4" cy="39.3" r="2.0" fill="#2a8a2a" fill-opacity="0.35"/>
<circle cx="342.5" cy="37.1" r="2.0" fill="#2a8a2a" fill-opacity="0.35"/>
<circle cx="347.3" cy="40.1" r="2.0" fill="#2a8a2a" fill-opacity="0.35"/>
<circle cx="344.9" cy="38.1" r="2.0" fill="#2a8a2a" fill-opacity="0.35"/>
<circle cx="349.2" cy="39.6" r="2.0" fill="#2a8a2a" fill-opacity="0.35"/>
<circle cx="349.8" cy="39.1" r="2.0" fill="#2a8a2a" fill-opacity="0.35"/>
<circle cx="346.3" cy="40.8" r="2.0" fill="#2a8a2a" fill-opacity="0.35"/>
<circle cx="347.7" cy="36.1" r="2.0" fill="#2a8a2a" fill-opacity="0.35"/>
<circle cx="345.2" cy="38.5" r="2.0" fill="#2a8a2a" fill-opacity="0.35"/>
<circle cx="347.1" cy="39.0" r="2.0" fill="#2a8a2a" fill-opacity="0.35"/>
<circle cx="347.5" cy="39.1" r="2.0" fill="#2a8a2a" fill-opacity="0.35"/>
<ellipse cx="351.5" cy="35.8" rx="7" ry="3.3" fill="#0d700d" fill-opacity="0.6" transform="rotate(-6 351.5 35.8)"/>
<circle cx="350.2" cy="33.7" r="2.0" fill="#0a6e0a" fill-opacity="0.4"/>
<circle cx="353.0" cy="37.9" r="2.0" fill="#0a6e0a" fill-opacity="0.4"/>
<circle cx="353.0" cy="35.4" r="2.0" fill="#0a6e0a" fill-opacity="0.4"/>
<circle cx="352.7" cy="33.9" r="2.0" fill="#0a6e0a" fill-opacity="0.4"/>
<circle cx="344.6" cy="36.7" r="2.0" fill="#0a6e0a" fill-opacity="0.4"/>
<circle cx="347.3" cy="37.8" r="2.0" fill="#0a6e0a" fill-opacity="0.4"/>
<circle cx="348.1" cy="33.3" r="2.0" fill="#0a6e0a" fill-opacity="0.4"/>
<circle cx="347.7" cy="38.8" r="2.0" fill="#0a6e0a" fill-opacity="0.4"/>
<circle cx="349.3" cy="33.7" r="2.0" fill="#0a6e0a" fill-opacity="0.4"/>
<circle cx="347.7" cy="37.4" r="2.0" fill="#0a6e0a" fill-opacity="0.4"/>
<circle cx="353.4" cy="36.1" r="2.0" fill="#0a6e0a" fill-opacity="0.4"/>
<circle cx="356.5" cy="36.6" r="2.0" fill="#0a6e0a" fill-opacity="0.4"/>
<circle cx="351.0" cy="37.3" r="2.0" fill="#0a6e0a" fill-opacity="0.4"/>
<circle cx="356.7" cy="36.9" r="2.0" fill="#0a6e0a" fill-opacity="0.4"/>
<circle cx="354.7" cy="33.7" r="2.0" fill="#0a6e0a" fill-opacity="0.4"/>
<circle cx="350.5" cy="37.6" r="2.0" fill="#0a6e0a" fill-opacity="0.4"/>
<circle cx="349.9" cy="38.2" r="2.0" fill="#0a6e0a" fill-opacity="0.4"/>
<circle cx="353.7" cy="37.5" r="2.0" fill="#0a6e0a" fill-opacity="0.4"/>
<circle cx="350.7" cy="39.2" r="2.0" fill="#0a6e0a" fill-opacity="0.4"/>
<circle cx="356.0" cy="35.1" r="2.0" fill="#0a6e0a" fill-opacity="0.4"/>
<circle cx="351.6" cy="39.1" r="2.0" fill="#0a6e0a" fill-opacity="0.4"/>
<circle cx="349.7" cy="37.9" r="2.0" fill="#0a6e0a" fill-opacity="0.4"/>
<circle cx="355.3" cy="35.6" r="2.0" fill="#0a6e0a" fill-opacity="0.4"/>
<circle cx="346.2" cy="36.8" r="2.0" fill="#0a6e0a" fill-opacity="0.4"/>
<circle cx="352.7" cy="38.0" r="2.0" fill="#0a6e0a" fill-opacity="0.4"/>
<circle cx="354.6" cy="35.7" r="2.0" fill="#0a6e0a" fill-opacity="0.4"/>
<circle cx="354.8" cy="36.7" r="2.0" fill="#0a6e0a" fill-opacity="0.4"/>
<circle cx="352.0" cy="36.0" r="2.0" fill="#0a6e0a" fill-opacity="0.4"/>
<circle cx="350.0" cy="37.6" r="2.0" fill="#0a6e0a" fill-opacity="0.4"/>
<circle cx="346.5" cy="35.3" r="2.0" fill="#0a6e0a" fill-opacity="0.4"/>
<circle cx="350.8" cy="33.4" r="2.0" fill="#0a6e0a" fill-opacity="0.4"/>
<circle cx="349.3" cy="33.2" r="2.0" fill="#0a6e0a" fill-opacity="0.4"/>
<circle cx="348.1" cy="37.5" r="2.0" fill="#0a6e0a" fill-opacity="0.4"/>
<circle cx="353.7" cy="35.6" r="2.0" fill="#0a6e0a" fill-opacity="0.4"/>
<circle cx="349.8" cy="33.6" r="2.0" fill="#0a6e0a" fill-opacity="0.4"/>
<circle cx="357.2" cy="36.2" r="2.0" fill="#0a6e0a" fill-opacity="0.4"/>
<circle cx="355.1" cy="34.0" r="2.0" fill="#0a6e0a" fill-opacity="0.4"/>
<circle cx="350.1" cy="33.2" r="2.0" fill="#0a6e0a" fill-opacity="0.4"/>
<circle cx="354.4" cy="37.4" r="2.0" fill="#0a6e0a" fill-opacity="0.4"/>
<circle cx="344.6" cy="36.6" r="2.0" fill="#0a6e0a" fill-opacity="0.4"/>
<circle cx="352.9" cy="33.1" r="2.0" fill="#0a6e0a" fill-opacity="0.4"/>
<circle cx="345.2" cy="35.1" r="2.0" fill="#0a6e0a" fill-opacity="0.4"/>
<circle cx="348.4" cy="33.8" r="2.0" fill="#0a6e0a" fill-opacity="0.4"/>
<circle cx="351.2" cy="36.5" r="2.0" fill="#0a6e0a" fill-opacity="0.4"/>
<circle cx="353.9" cy="37.1" r="2.0" fill="#0a6e0a" fill-opacity="0.4"/>
<circle cx="356.2" cy="37.3" r="2.0" fill="#0a6e0a" fill-opacity="0.4"/>
<circle cx="345.8" cy="35.6" r="2.0" fill="#0a6e0a" fill-opacity="0.4"/>
<circle cx="346.8" cy="34.5" r="2.0" fill="#0a6e0a" fill-opacity="0.4"/>
<circle cx="350.6" cy="36.1" r="2.0" fill="#0a6e0a" fill-opacity="0.4"/>
<circle cx="352.5" cy="33.2" r="2.0" fill="#0a6e0a" fill-opacity="0.4"/>
<circle cx="345.9" cy="36.5" r="2.0" fill="#0a6e0a" fill-opacity="0.4"/>
<circle cx="350.0" cy="35.4" r="2.0" fill="#0a6e0a" fill-opacity="0.4"/>
<circle cx="350.6" cy="34.4" r="2.0" fill="#0a6e0a" fill-opacity="0.4"/>
<circle cx="354.3" cy="36.4" r="2.0" fill="#0a6e0a" fill-opacity="0.4"/>
<circle cx="350.4" cy="34.6" r="2.0" fill="#0a6e0a" fill-opacity="0.4"/>
<circle cx="350.2" cy="32.9" r="2.0" fill="#0a6e0a" fill-opacity="0.4"/>
<circle cx="346.7" cy="36.5" r="2.0" fill="#0a6e0a" fill-opacity="0.4"/>
<circle cx="345.3" cy="36.9" r="2.0" fill="#0a6e0a" fill-opacity="0.4"/>
<circle cx="351.3" cy="33.5" r="2.0" fill="#0a6e0a" fill-opacity="0.4"/>
<circle cx="349.7" cy="35.4" r="2.0" fill="#0a6e0a" fill-opacity="0.4"/>
<circle cx="362.0" cy="41.3" r="1.8" fill="none" stroke="#3030ff" stroke-width="0.8" opacity="0.8"/>
<circle cx="363.0" cy="41.7" r="1.8" fill="none" stroke="#3030ff" stroke-width="0.8" opacity="0.8"/>
<circle cx="364.0" cy="42.9" r="1.8" fill="none" stroke="#3030ff" stroke-width="0.8" opacity="0.8"/>
<circle cx="365.0" cy="42.3" r="1.8" fill="none" stroke="#3030ff" stroke-width="0.8" opacity="0.8"/>
<circle cx="366.0" cy="43.1" r="1.8" fill="none" stroke="#3030ff" stroke-width="0.8" opacity="0.8"/>
<circle cx="367.0" cy="42.2" r="1.8" fill="none" stroke="#3030ff" stroke-width="0.8" opacity="0.8"/>
<circle cx="368.0" cy="42.5" r="1.8" fill="none" stroke="#3030ff" stroke-width="0.8" opacity="0.8"/>
<circle cx="369.0" cy="43.2" r="1.8" fill="none" stroke="#3030ff" stroke-width="0.8" opacity="0.8"/>
<circle cx="370.0" cy="44.2" r="1.8" fill="none" stroke="#3030ff" stroke-width="0.8" opacity="0.8"/>
<circle cx="371.0" cy="44.5" r="1.8" fill="none" stroke="#3030ff" stroke-width="0.8" opacity="0.8"/>
<circle cx="372.0" cy="44.7" r="1.8" fill="none" stroke="#3030ff" stroke-width="0.8" opacity="0.8"/>
<circle cx="373.0" cy="44.1" r="1.8" fill="none" stroke="#3030ff" stroke-width="0.8" opacity="0.8"/>
<circle cx="374.0" cy="44.8" r="1.8" fill="none" stroke="#3030ff" stroke-width="0.8" opacity="0.8"/>
<circle cx="375.0" cy="44.9" r="1.8" fill="none" stroke="#3030ff" stroke-width="0.8" opacity="0.8"/>
<ellipse cx="366.8" cy="37.4" rx="7.2" ry="3.5" fill="#0808f0" fill-opacity="0.75" transform="rotate(-4 366.8 37.4)"/>
<circle cx="364.2" cy="37.8" r="2.0" fill="#0000e0" fill-opacity="0.4"/>
<circle cx="368.9" cy="36.7" r="2.0" fill="#0000e0" fill-opacity="0.4"/>
<circle cx="373.0" cy="37.2" r="2.0" fill="#0000e0" fill-opacity="0.4"/>
<circle cx="371.1" cy="37.8" r="2.0" fill="#0000e0" fill-opacity="0.4"/>
<circle cx="369.3" cy="34.8" r="2.0" fill="#0000e0" fill-opacity="0.4"/>
<circle cx="363.2" cy="38.1" r="2.0" fill="#0000e0" fill-opacity="0.4"/>
<circle cx="368.2" cy="40.6" r="2.0" fill="#0000e0" fill-opacity="0.4"/>
<circle cx="367.8" cy="40.0" r="2.0" fill="#0000e0" fill-opacity="0.4"/>
<circle cx="369.6" cy="39.4" r="2.0" fill="#0000e0" fill-opacity="0.4"/>
<circle cx="368.9" cy="37.3" r="2.0" fill="#0000e0" fill-opacity="0.4"/>
<circle cx="368.6" cy="35.5" r="2.0" fill="#0000e0" fill-opacity="0.4"/>
<circle cx="370.8" cy="35.8" r="2.0" fill="#0000e0" fill-opacity="0.4"/>
<circle cx="367.3" cy="40.6" r="2.0" fill="#0000e0" fill-opacity="0.4"/>
<circle cx="365.4" cy="37.6" r="2.0" fill="#0000e0" fill-opacity="0.4"/>
<circle cx="371.3" cy="37.7" r="2.0" fill="#0000e0" fill-opacity="0.4"/>
<circle cx="362.9" cy="38.1" r="2.0" fill="#0000e0" fill-opacity="0.4"/>
<circle cx="369.0" cy="39.1" r="2.0" fill="#0000e0" fill-opacity="0.4"/>
<circle cx="364.0" cy="40.3" r="2.0" fill="#0000e0" fill-opacity="0.4"/>
<circle cx="372.4" cy="37.6" r="2.0" fill="#0000e0" fill-opacity="0.4"/>
<circle cx="367.8" cy="36.7" r="2.0" fill="#0000e0" fill-opacity="0.4"/>
<circle cx="371.6" cy="36.4" r="2.0" fill="#0000e0" fill-opacity="0.4"/>
<circle cx="369.5" cy="36.6" r="2.0" fill="#0000e0" fill-opacity="0.4"/>
<circle cx="363.5" cy="39.0" r="2.0" fill="#0000e0" fill-opacity="0.4"/>
<circle cx="371.7" cy="37.6" r="2.0" fill="#0000e0" fill-opacity="0.4"/>
<circle cx="363.6" cy="39.2" r="2.0" fill="#0000e0" fill-opacity="0.4"/>
<circle cx="366.3" cy="38.3" r="2.0" fill="#0000e0" fill-opacity="0.4"/>
<circle cx="371.5" cy="39.3" r="2.0" fill="#0000e0" fill-opacity="0.4"/>
<circle cx="365.0" cy="40.6" r="2.0" fill="#0000e0" fill-opacity="0.4"/>
<circle cx="366.5" cy="39.2" r="2.0" fill="#0000e0" fill-opacity="0.4"/>
<circle cx="363.5" cy="37.5" r="2.0" fill="#0000e0" fill-opacity="0.4"/>
<circle cx="361.8" cy="39.8" r="2.0" fill="#0000e0" fill-opacity="0.4"/>
<circle cx="371.1" cy="35.7" r="2.0" fill="#0000e0" fill-opacity="0.4"/>
<circle cx="362.1" cy="35.4" r="2.0" fill="#0000e0" fill-opacity="0.4"/>
<circle cx="371.2" cy="36.7" r="2.0" fill="#0000e0" fill-opacity="0.4"/>
<circle cx="366.2" cy="36.9" r="2.0" fill="#0000e0" fill-opacity="0.4"/>
<circle cx="366.0" cy="35.5" r="2.0" fill="#0000e0" fill-opacity="0.4"/>
<circle cx="366.6" cy="35.0" r="2.0" fill="#0000e0" fill-opacity="0.4"/>
<circle cx="366.2" cy="38.3" r="2.0" fill="#0000e0" fill-opacity="0.4"/>
<circle cx="368.7" cy="37.1" r="2.0" fill="#0000e0" fill-opacity="0.4"/>
<circle cx="362.6" cy="37.9" r="2.0" fill="#0000e0" fill-opacity="0.4"/>
<circle cx="364.8" cy="40.2" r="2.0" fill="#0000e0" fill-opacity="0.4"/>
<circle cx="369.9" cy="37.4" r="2.0" fill="#0000e0" fill-opacity="0.4"/>
<circle cx="364.4" cy="36.1" r="2.0" fill="#0000e0" fill-opacity="0.4"/>
<circle cx="362.5" cy="36.9" r="2.0" fill="#0000e0" fill-opacity="0.4"/>
<circle cx="367.9" cy="38.7" r="2.0" fill="#0000e0" fill-opacity="0.4"/>
<circle cx="368.2" cy="40.5" r="2.0" fill="#0000e0" fill-opacity="0.4"/>
<circle cx="363.3" cy="37.6" r="2.0" fill="#0000e0" fill-opacity="0.4"/>
<circle cx="372.1" cy="35.8" r="2.0" fill="#0000e0" fill-opacity="0.4"/>
<circle cx="364.1" cy="38.0" r="2.0" fill="#0000e0" fill-opacity="0.4"/>
<circle cx="367.2" cy="38.5" r="2.0" fill="#0000e0" fill-opacity="0.4"/>
<ellipse cx="366.5" cy="37.3" rx="4" ry="1.6" fill="#0000b0" fill-opacity="0.35"/>
<circle cx="381.0" cy="44.2" r="1.8" fill="none" stroke="#902090" stroke-width="0.8" opacity="0.8"/>
<circle cx="382.0" cy="43.9" r="1.8" fill="none" stroke="#902090" stroke-width="0.8" opacity="0.8"/>
<circle cx="383.0" cy="44.3" r="1.8" fill="none" stroke="#902090" stroke-width="0.8" opacity="0.8"/>
<circle cx="384.0" cy="44.6" r="1.8" fill="none" stroke="#902090" stroke-width="0.8" opacity="0.8"/>
<circle cx="385.0" cy="45.4" r="1.8" fill="none" stroke="#902090" stroke-width="0.8" opacity="0.8"/>
<circle cx="386.0" cy="46.2" r="1.8" fill="none" stroke="#902090" stroke-width="0.8" opacity="0.8"/>
<circle cx="387.0" cy="46.1" r="1.8" fill="none" stroke="#902090" stroke-width="0.8" opacity="0.8"/>
<circle cx="388.0" cy="45.6" r="1.8" fill="none" stroke="#902090" stroke-width="0.8" opacity="0.8"/>
<circle cx="389.0" cy="45.8" r="1.8" fill="none" stroke="#902090" stroke-width="0.8" opacity="0.8"/>
<circle cx="390.0" cy="46.2" r="1.8" fill="none" stroke="#902090" stroke-width="0.8" opacity="0.8"/>
<circle cx="391.0" cy="46.1" r="1.8" fill="none" stroke="#902090" stroke-width="0.8" opacity="0.8"/>
<circle cx="392.0" cy="46.2" r="1.8" fill="none" stroke="#902090" stroke-width="0.8" opacity="0.8"/>
<ellipse cx="385.2" cy="40.8" rx="6.6" ry="2.6" fill="#800080" fill-opacity="0.7" transform="rotate(-6 385.2 40.8)"/>
<circle cx="388.2" cy="41.2" r="2.0" fill="#800080" fill-opacity="0.45"/>
<circle cx="387.3" cy="40.7" r="2.0" fill="#800080" fill-opacity="0.45"/>
<circle cx="380.3" cy="41.4" r="2.0" fill="#800080" fill-opacity="0.45"/>
<circle cx="387.0" cy="40.1" r="2.0" fill="#800080" fill-opacity="0.45"/>
<circle cx="384.9" cy="42.1" r="2.0" fill="#800080" fill-opacity="0.45"/>
<circle cx="381.9" cy="42.1" r="2.0" fill="#800080" fill-opacity="0.45"/>
<circle cx="390.6" cy="40.0" r="2.0" fill="#800080" fill-opacity="0.45"/>
<circle cx="385.8" cy="40.7" r="2.0" fill="#800080" fill-opacity="0.45"/>
<circle cx="390.3" cy="41.0" r="2.0" fill="#800080" fill-opacity="0.45"/>
<circle cx="388.5" cy="39.8" r="2.0" fill="#800080" fill-opacity="0.45"/>
<circle cx="385.1" cy="41.0" r="2.0" fill="#800080" fill-opacity="0.45"/>
<circle cx="380.7" cy="42.7" r="2.0" fill="#800080" fill-opacity="0.45"/>
<circle cx="387.7" cy="39.0" r="2.0" fill="#800080" fill-opacity="0.45"/>
<circle cx="388.2" cy="40.6" r="2.0" fill="#800080" fill-opacity="0.45"/>
<circle cx="387.1" cy="41.4" r="2.0" fill="#800080" fill-opacity="0.45"/>
<circle cx="380.1" cy="41.2" r="2.0" fill="#800080" fill-opacity="0.45"/>
<circle cx="390.0" cy="39.9" r="2.0" fill="#800080" fill-opacity="0.45"/>
<circle cx="381.8" cy="39.7" r="2.0" fill="#800080" fill-opacity="0.45"/>
<circle cx="380.8" cy="41.8" r="2.0" fill="#800080" fill-opacity="0.45"/>
<circle cx="390.5" cy="41.1" r="2.0" fill="#800080" fill-opacity="0.45"/>
<circle cx="386.0" cy="43.0" r="2.0" fill="#800080" fill-opacity="0.45"/>
<circle cx="383.0" cy="40.2" r="2.0" fill="#800080" fill-opacity="0.45"/>
<circle cx="387.4" cy="41.6" r="2.0" fill="#800080" fill-opacity="0.45"/>
<circle cx="381.7" cy="39.9" r="2.0" fill="#800080" fill-opacity="0.45"/>
<circle cx="386.5" cy="41.3" r="2.0" fill="#800080" fill-opacity="0.45"/>
<circle cx="380.5" cy="41.1" r="2.0" fill="#800080" fill-opacity="0.45"/>
<circle cx="383.0" cy="41.8" r="2.0" fill="#800080" fill-opacity="0.45"/>
<circle cx="384.7" cy="40.9" r="2.0" fill="#800080" fill-opacity="0.45"/>
<circle cx="384.0" cy="42.5" r="2.0" fill="#800080" fill-opacity="0.45"/>
<circle cx="390.0" cy="40.2" r="2.0" fill="#800080" fill-opacity="0.45"/>
<circle cx="388.3" cy="39.7" r="2.0" fill="#800080" fill-opacity="0.45"/>
<circle cx="385.6" cy="42.1" r="2.0" fill="#800080" fill-opacity="0.45"/>
<circle cx="390.2" cy="40.1" r="2.0" fill="#800080" fill-opacity="0.45"/>
<circle cx="384.9" cy="41.3" r="2.0" fill="#800080" fill-opacity="0.45"/>
<circle cx="380.1" cy="41.4" r="2.0" fill="#800080" fill-opacity="0.45"/>
<circle cx="382.5" cy="41.8" r="2.0" fill="#800080" fill-opacity="0.45"/>
<circle cx="382.1" cy="39.4" r="2.0" fill="#800080" fill-opacity="0.45"/>
<circle cx="385.4" cy="41.4" r="2.0" fill="#800080" fill-opacity="0.45"/>
<circle cx="383.2" cy="42.4" r="2.0" fill="#800080" fill-opacity="0.45"/>
<circle cx="384.0" cy="40.2" r="2.0" fill="#800080" fill-opacity="0.45"/>
<circle cx="386.6" cy="39.1" r="2.0" fill="#800080" fill-opacity="0.45"/>
<circle cx="382.4" cy="41.2" r="2.0" fill="#800080" fill-opacity="0.45"/>
<circle cx="388.6" cy="40.5" r="2.0" fill="#800080" fill-opacity="0.45"/>
<circle cx="386.4" cy="39.9" r="2.0" fill="#800080" fill-opacity="0.45"/>
<circle cx="386.3" cy="42.8" r="2.0" fill="#800080" fill-opacity="0.45"/>
<circle cx="421.0" cy="41.5" r="1.7" fill="#f0e0f0" stroke="#a040a0" stroke-width="0.8"/>
<circle cx="422.6" cy="41.4" r="1.7" fill="#f0e0f0" stroke="#a040a0" stroke-width="0.8"/>
<circle cx="424.2" cy="41.2" r="1.7" fill="#f0e0f0" stroke="#a040a0" stroke-width="0.8"/>
<circle cx="425.8" cy="41.0" r="1.7" fill="#f0e0f0" stroke="#a040a0" stroke-width="0.8"/>
<circle cx="427.4" cy="40.9" r="1.7" fill="#f0e0f0" stroke="#a040a0" stroke-width="0.8"/>
<circle cx="429.0" cy="40.8" r="1.7" fill="#f0e0f0" stroke="#a040a0" stroke-width="0.8"/>
<circle cx="430.6" cy="40.6" r="1.7" fill="#f0e0f0" stroke="#a040a0" stroke-width="0.8"/>
<circle cx="432.2" cy="40.5" r="1.7" fill="#f0e0f0" stroke="#a040a0" stroke-width="0.8"/>
<circle cx="435.4" cy="45.3" r="2.2" fill="#ff0000" fill-opacity="0.6"/>
<circle cx="434.4" cy="42.0" r="2.2" fill="#ff0000" fill-opacity="0.6"/>
<circle cx="437.6" cy="44.2" r="2.2" fill="#ff0000" fill-opacity="0.6"/>
<circle cx="434.0" cy="39.1" r="2.2" fill="#ff0000" fill-opacity="0.6"/>
<circle cx="439.3" cy="43.7" r="2.2" fill="#ff0000" fill-opacity="0.6"/>
<circle cx="438.4" cy="45.4" r="2.2" fill="#ff0000" fill-opacity="0.6"/>
<circle cx="437.9" cy="42.6" r="2.2" fill="#ff0000" fill-opacity="0.6"/>
<circle cx="440.5" cy="42.8" r="2.2" fill="#ff0000" fill-opacity="0.6"/>
<circle cx="441.5" cy="40.0" r="2.2" fill="#ff0000" fill-opacity="0.6"/>
<circle cx="436.4" cy="38.5" r="2.2" fill="#ff0000" fill-opacity="0.6"/>
<circle cx="440.1" cy="41.2" r="2.2" fill="#ff0000" fill-opacity="0.6"/>
<circle cx="439.3" cy="45.1" r="2.2" fill="#ff0000" fill-opacity="0.6"/>
<circle cx="437.0" cy="41.4" r="2.2" fill="#ff0000" fill-opacity="0.6"/>
<circle cx="435.1" cy="40.2" r="2.2" fill="#ff0000" fill-opacity="0.6"/>
<circle cx="434.6" cy="43.4" r="2.2" fill="#ff0000" fill-opacity="0.6"/>
<circle cx="437.2" cy="42.2" r="2.2" fill="#ff0000" fill-opacity="0.6"/>
<circle cx="436.3" cy="44.0" r="2.2" fill="#ff0000" fill-opacity="0.6"/>
<circle cx="439.0" cy="41.7" r="2.2" fill="#ff0000" fill-opacity="0.6"/>
<circle cx="439.7" cy="41.6" r="2.2" fill="#ff0000" fill-opacity="0.6"/>
<circle cx="433.6" cy="44.5" r="2.2" fill="#ff0000" fill-opacity="0.6"/>
<circle cx="438.7" cy="39.9" r="2.2" fill="#ff0000" fill-opacity="0.6"/>
<circle cx="440.9" cy="42.7" r="2.2" fill="#ff0000" fill-opacity="0.6"/>
<circle cx="433.0" cy="44.4" r="2.2" fill="#ff0000" fill-opacity="0.6"/>
<circle cx="438.3" cy="44.0" r="2.2" fill="#ff0000" fill-opacity="0.6"/>
<circle cx="437.8" cy="41.6" r="2.2" fill="#ff0000" fill-opacity="0.6"/>
<circle cx="432.4" cy="43.7" r="2.2" fill="#ff0000" fill-opacity="0.6"/>
<circle cx="437.1" cy="41.3" r="2.2" fill="#ff0000" fill-opacity="0.6"/>
<circle cx="438.5" cy="42.2" r="2.2" fill="#ff0000" fill-opacity="0.6"/>
<circle cx="439.7" cy="41.1" r="2.2" fill="#ff0000" fill-opacity="0.6"/>
<circle cx="436.9" cy="38.7" r="2.2" fill="#ff0000" fill-opacity="0.6"/>
<circle cx="435.3" cy="43.5" r="2.2" fill="#ff0000" fill-opacity="0.6"/>
<circle cx="441.5" cy="41.3" r="2.2" fill="#ff0000" fill-opacity="0.6"/>
<circle cx="436.6" cy="45.0" r="2.2" fill="#ff0000" fill-opacity="0.6"/>
<circle cx="435.7" cy="43.7" r="2.2" fill="#ff0000" fill-opacity="0.6"/>
<circle cx="442.2" cy="42.1" r="2.2" fill="#ff0000" fill-opacity="0.6"/>
<circle cx="441.1" cy="40.6" r="2.2" fill="#ff0000" fill-opacity="0.6"/>
<circle cx="437.9" cy="41.8" r="2.2" fill="#ff0000" fill-opacity="0.6"/>
<circle cx="437.4" cy="44.4" r="2.2" fill="#ff0000" fill-opacity="0.6"/>
<circle cx="442.6" cy="41.1" r="2.2" fill="#ff0000" fill-opacity="0.6"/>
<circle cx="434.7" cy="43.1" r="2.2" fill="#ff0000" fill-opacity="0.6"/>
<circle cx="433.2" cy="43.0" r="2.2" fill="#ff0000" fill-opacity="0.6"/>
<circle cx="439.3" cy="41.3" r="2.2" fill="#ff0000" fill-opacity="0.6"/>
<circle cx="438.7" cy="39.2" r="2.2" fill="#ff0000" fill-opacity="0.6"/>
<circle cx="439.3" cy="39.2" r="2.2" fill="#ff0000" fill-opacity="0.6"/>
<circle cx="434.3" cy="40.7" r="2.2" fill="#ff0000" fill-opacity="0.6"/>
<circle cx="435.5" cy="43.9" r="2.2" fill="#ff0000" fill-opacity="0.6"/>
<circle cx="437.3" cy="41.0" r="2.2" fill="#ff0000" fill-opacity="0.6"/>
<circle cx="438.7" cy="44.9" r="2.2" fill="#ff0000" fill-opacity="0.6"/>
<circle cx="437.0" cy="42.9" r="2.2" fill="#ff0000" fill-opacity="0.6"/>
<circle cx="441.4" cy="42.5" r="2.2" fill="#ff0000" fill-opacity="0.6"/>
<circle cx="441.0" cy="38.0" r="1.8" fill="none" stroke="#ff2020" stroke-width="0.9"/>
<circle cx="442.5" cy="37.0" r="1.8" fill="none" stroke="#ff2020" stroke-width="0.9"/>
<circle cx="444.0" cy="36.0" r="1.8" fill="none" stroke="#ff2020" stroke-width="0.9"/>
<circle cx="445.5" cy="35.0" r="1.8" fill="none" stroke="#ff2020" stroke-width="0.9"/>
<path d="M359.3 42.6L362.5 42.6L362.5 44.8L364.7 44.8L364.7 48.0L362.5 48.0L362.5 50.2L359.3 50.2L359.3 48.0L357.1 48.0L357.1 44.8L359.3 44.8Z" fill="#000" stroke="#008000" stroke-width="2.2" stroke-linejoin="miter"/>
<path d="M359.3 42.6L362.5 42.6L362.5 44.8L364.7 44.8L364.7 48.0L362.5 48.0L362.5 50.2L359.3 50.2L359.3 48.0L357.1 48.0L357.1 44.8L359.3 44.8Z" fill="#008000"/>
<rect x="358.6" y="45.7" width="4.6" height="1.4" fill="#000"/>
<rect x="360.2" y="44.1" width="1.4" height="4.6" fill="#000"/>
<rect x="365.2" y="43.0" width="7.2" height="7.2" fill="#000" stroke="#008000" stroke-width="2.2" stroke-linejoin="miter"/>
<path d="M374.3 43.0L377.5 43.0L377.5 45.2L379.7 45.2L379.7 48.4L377.5 48.4L377.5 50.6L374.3 50.6L374.3 48.4L372.1 48.4L372.1 45.2L374.3 45.2Z" fill="#000" stroke="#0000ff" stroke-width="2.2" stroke-linejoin="miter"/>
<path d="M374.3 43.0L377.5 43.0L377.5 45.2L379.7 45.2L379.7 48.4L377.5 48.4L377.5 50.6L374.3 50.6L374.3 48.4L372.1 48.4L372.1 45.2L374.3 45.2Z" fill="#0000ff"/>
<rect x="373.7" y="46.1" width="4.4" height="1.4" fill="#000"/>
<rect x="375.2" y="44.6" width="1.4" height="4.4" fill="#000"/>
<rect x="378.5" y="44.7" width="6.4" height="6.4" fill="#000" stroke="#0000ff" stroke-width="2.6" stroke-linejoin="miter"/>
<rect x="394.7" y="48.5" width="4.6" height="4.6" fill="#000" stroke="#c800c8" stroke-width="2.6" stroke-linejoin="miter"/>
<path d="M391.7 42.8L395.1 42.8L395.1 45.1L397.4 45.1L397.4 48.5L395.1 48.5L395.1 50.8L391.7 50.8L391.7 48.5L389.4 48.5L389.4 45.1L391.7 45.1Z" fill="#000" stroke="#c800c8" stroke-width="2.8" stroke-linejoin="miter"/>
<path d="M391.7 42.8L395.1 42.8L395.1 45.1L397.4 45.1L397.4 48.5L395.1 48.5L395.1 50.8L391.7 50.8L391.7 48.5L389.4 48.5L389.4 45.1L391.7 45.1Z" fill="#c800c8"/>
<rect x="391.0" y="46.1" width="4.8" height="1.4" fill="#000"/>
<rect x="392.7" y="44.4" width="1.4" height="4.8" fill="#000"/>
<path d="M400.7 39.2L408.5 39.2L404.6 47.0Z" fill="#000" stroke="#008000" stroke-width="2.2" stroke-linejoin="miter"/>
<path d="M415.8 38.6L423.2 38.6L419.5 46.0Z" fill="#000" stroke="#c800c8" stroke-width="2.2" stroke-linejoin="miter"/>
<path d="M430.4 38.2L444.4 36.6L444.6 45.6L430.6 46.8Z" fill="#ff0000" stroke="#ff0000" stroke-width="0.8" stroke-linejoin="round"/>
<rect x="440.7" y="38.8" width="1.9" height="5.4" fill="#000"/>
<path d="M434.6 39.1L436.7 39.1L436.7 40.6L438.1 40.6L438.1 42.6L436.7 42.6L436.7 44.1L434.6 44.1L434.6 42.6L433.1 42.6L433.1 40.6L434.6 40.6Z" fill="#000"/>
<path d="M443.6 31.9L450.4 31.9L447.0 38.7Z" fill="#000" stroke="#ff0000" stroke-width="2.2" stroke-linejoin="miter"/>
<path d="M293.6 40.5L297.0 40.5L297.0 42.8L299.3 42.8L299.3 46.2L297.0 46.2L297.0 48.5L293.6 48.5L293.6 46.2L291.3 46.2L291.3 42.8L293.6 42.8Z" fill="#000"/>
<rect x="300.5" y="42.9" width="7.7" height="7.7" fill="#000"/>
<path d="M303.5 65.5L311.2 65.5L307.4 73.1Z" fill="#000"/>
<rect x="251.2" y="168.7" width="217.3" height="112.0" fill="none" stroke="#f6f6f6" stroke-width="0.8"/>
<rect x="467.4" y="16.2" width="2.1" height="269.3" fill="#fff" fill-opacity="0.4"/>
<rect x="252.5" y="170.1" width="214.6" height="109.1" fill="#fff" fill-opacity="0.3" stroke="none"/>
<rect x="252.5" y="170.1" width="214.6" height="109.1" fill="none" stroke="#111" stroke-width="1.8"/>
<rect x="258.6" y="175.8" width="203.6" height="97.9" fill="#e5e5e5" stroke="#f0f0f0" stroke-width="0.7"/>
<circle cx="287.4" cy="263.2" r="1.7" fill="#f5fbf3" stroke="#8cc68c" stroke-width="0.8"/>
<circle cx="314.3" cy="249.8" r="1.7" fill="#f5fbf3" stroke="#8cc68c" stroke-width="0.8"/>
<circle cx="332.0" cy="240.8" r="1.7" fill="#f5fbf3" stroke="#8cc68c" stroke-width="0.8"/>
<circle cx="347.2" cy="232.0" r="1.7" fill="#f5fbf3" stroke="#8cc68c" stroke-width="0.8"/>
<circle cx="359.5" cy="228.0" r="1.7" fill="#f5fbf3" stroke="#8cc68c" stroke-width="0.8"/>
<circle cx="369.3" cy="222.6" r="1.7" fill="#f5fbf3" stroke="#8cc68c" stroke-width="0.8"/>
<circle cx="377.1" cy="218.3" r="1.7" fill="#f5fbf3" stroke="#8cc68c" stroke-width="0.8"/>
<circle cx="383.3" cy="215.0" r="1.7" fill="#f5fbf3" stroke="#8cc68c" stroke-width="0.8"/>
<circle cx="387.3" cy="212.3" r="1.7" fill="#f5fbf3" stroke="#8cc68c" stroke-width="0.8"/>
<circle cx="390.4" cy="210.0" r="1.7" fill="#f5fbf3" stroke="#8cc68c" stroke-width="0.8"/>
<circle cx="392.6" cy="207.8" r="1.7" fill="#f5fbf3" stroke="#8cc68c" stroke-width="0.8"/>
<circle cx="305.3" cy="263.2" r="1.7" fill="#f5f9ff" stroke="#8a8af2" stroke-width="0.8"/>
<circle cx="332.0" cy="248.8" r="1.7" fill="#f5f9ff" stroke="#8a8af2" stroke-width="0.8"/>
<circle cx="352.8" cy="238.0" r="1.7" fill="#f5f9ff" stroke="#8a8af2" stroke-width="0.8"/>
<circle cx="367.2" cy="229.6" r="1.7" fill="#f5f9ff" stroke="#8a8af2" stroke-width="0.8"/>
<circle cx="376.0" cy="224.3" r="1.7" fill="#f5f9ff" stroke="#8a8af2" stroke-width="0.8"/>
<circle cx="386.0" cy="219.0" r="1.7" fill="#f5f9ff" stroke="#8a8af2" stroke-width="0.8"/>
<circle cx="389.6" cy="215.8" r="1.7" fill="#f5f9ff" stroke="#8a8af2" stroke-width="0.8"/>
<circle cx="393.0" cy="213.5" r="1.7" fill="#f5f9ff" stroke="#8a8af2" stroke-width="0.8"/>
<circle cx="397.4" cy="211.6" r="1.7" fill="#f5f9ff" stroke="#8a8af2" stroke-width="0.8"/>
<circle cx="401.0" cy="209.4" r="1.7" fill="#f5f9ff" stroke="#8a8af2" stroke-width="0.8"/>
<circle cx="403.4" cy="207.5" r="1.7" fill="#f5f9ff" stroke="#8a8af2" stroke-width="0.8"/>
<circle cx="388.5" cy="227.6" r="1.7" fill="#fcfafd" stroke="#c48fc4" stroke-width="0.8"/>
<circle cx="403.8" cy="217.5" r="1.7" fill="#fcfafd" stroke="#c48fc4" stroke-width="0.8"/>
<circle cx="415.0" cy="211.0" r="1.7" fill="#fcfafd" stroke="#c48fc4" stroke-width="0.8"/>
<circle cx="267.5" cy="196.3" r="1.6" fill="none" stroke="#3d9a3d" stroke-width="0.5" opacity="0.6"/>
<circle cx="267.9" cy="203.5" r="1.6" fill="none" stroke="#3d9a3d" stroke-width="0.5" opacity="0.6"/>
<circle cx="268.2" cy="202.5" r="1.6" fill="none" stroke="#3d9a3d" stroke-width="0.5" opacity="0.6"/>
<circle cx="268.6" cy="203.6" r="1.6" fill="none" stroke="#3d9a3d" stroke-width="0.5" opacity="0.6"/>
<circle cx="269.0" cy="196.0" r="1.6" fill="none" stroke="#3d9a3d" stroke-width="0.5" opacity="0.6"/>
<circle cx="269.3" cy="194.2" r="1.6" fill="none" stroke="#3d9a3d" stroke-width="0.5" opacity="0.6"/>
<circle cx="269.7" cy="194.4" r="1.6" fill="none" stroke="#3d9a3d" stroke-width="0.5" opacity="0.6"/>
<circle cx="270.0" cy="198.7" r="1.6" fill="none" stroke="#3d9a3d" stroke-width="0.5" opacity="0.6"/>
<circle cx="270.4" cy="200.9" r="1.6" fill="none" stroke="#3d9a3d" stroke-width="0.5" opacity="0.6"/>
<circle cx="270.8" cy="198.3" r="1.6" fill="none" stroke="#3d9a3d" stroke-width="0.5" opacity="0.6"/>
<circle cx="271.1" cy="196.3" r="1.6" fill="none" stroke="#3d9a3d" stroke-width="0.5" opacity="0.6"/>
<circle cx="271.5" cy="198.2" r="1.6" fill="none" stroke="#3d9a3d" stroke-width="0.5" opacity="0.6"/>
<circle cx="271.9" cy="200.3" r="1.6" fill="none" stroke="#3d9a3d" stroke-width="0.5" opacity="0.6"/>
<circle cx="272.2" cy="200.9" r="1.6" fill="none" stroke="#3d9a3d" stroke-width="0.5" opacity="0.6"/>
<circle cx="272.6" cy="201.7" r="1.6" fill="none" stroke="#3d9a3d" stroke-width="0.5" opacity="0.6"/>
<circle cx="272.9" cy="202.7" r="1.6" fill="none" stroke="#3d9a3d" stroke-width="0.5" opacity="0.6"/>
<circle cx="273.3" cy="201.1" r="1.6" fill="none" stroke="#3d9a3d" stroke-width="0.5" opacity="0.6"/>
<circle cx="273.7" cy="196.1" r="1.6" fill="none" stroke="#3d9a3d" stroke-width="0.5" opacity="0.6"/>
<circle cx="274.0" cy="202.9" r="1.6" fill="none" stroke="#3d9a3d" stroke-width="0.5" opacity="0.6"/>
<circle cx="274.4" cy="198.0" r="1.6" fill="none" stroke="#3d9a3d" stroke-width="0.5" opacity="0.6"/>
<circle cx="274.8" cy="200.6" r="1.6" fill="none" stroke="#3d9a3d" stroke-width="0.5" opacity="0.6"/>
<circle cx="275.1" cy="198.9" r="1.6" fill="none" stroke="#3d9a3d" stroke-width="0.5" opacity="0.6"/>
<circle cx="275.5" cy="202.3" r="1.6" fill="none" stroke="#3d9a3d" stroke-width="0.5" opacity="0.6"/>
<circle cx="275.9" cy="197.7" r="1.6" fill="none" stroke="#3d9a3d" stroke-width="0.5" opacity="0.6"/>
<circle cx="276.2" cy="198.2" r="1.6" fill="none" stroke="#3d9a3d" stroke-width="0.5" opacity="0.6"/>
<circle cx="276.6" cy="198.3" r="1.6" fill="none" stroke="#3d9a3d" stroke-width="0.5" opacity="0.6"/>
<circle cx="276.9" cy="197.7" r="1.6" fill="none" stroke="#3d9a3d" stroke-width="0.5" opacity="0.6"/>
<circle cx="277.3" cy="203.9" r="1.6" fill="none" stroke="#3d9a3d" stroke-width="0.5" opacity="0.6"/>
<circle cx="277.7" cy="201.5" r="1.6" fill="none" stroke="#3d9a3d" stroke-width="0.5" opacity="0.6"/>
<circle cx="278.0" cy="199.5" r="1.6" fill="none" stroke="#3d9a3d" stroke-width="0.5" opacity="0.6"/>
<circle cx="278.4" cy="200.2" r="1.6" fill="none" stroke="#3d9a3d" stroke-width="0.5" opacity="0.6"/>
<circle cx="278.8" cy="205.1" r="1.6" fill="none" stroke="#3d9a3d" stroke-width="0.5" opacity="0.6"/>
<circle cx="279.1" cy="201.3" r="1.6" fill="none" stroke="#3d9a3d" stroke-width="0.5" opacity="0.6"/>
<circle cx="279.5" cy="199.3" r="1.6" fill="none" stroke="#3d9a3d" stroke-width="0.5" opacity="0.6"/>
<circle cx="279.8" cy="203.9" r="1.6" fill="none" stroke="#3d9a3d" stroke-width="0.5" opacity="0.6"/>
<circle cx="280.2" cy="202.8" r="1.6" fill="none" stroke="#3d9a3d" stroke-width="0.5" opacity="0.6"/>
<circle cx="280.6" cy="205.4" r="1.6" fill="none" stroke="#3d9a3d" stroke-width="0.5" opacity="0.6"/>
<circle cx="280.9" cy="199.0" r="1.6" fill="none" stroke="#3d9a3d" stroke-width="0.5" opacity="0.6"/>
<circle cx="281.3" cy="201.8" r="1.6" fill="none" stroke="#3d9a3d" stroke-width="0.5" opacity="0.6"/>
<circle cx="281.7" cy="204.4" r="1.6" fill="none" stroke="#3d9a3d" stroke-width="0.5" opacity="0.6"/>
<circle cx="282.0" cy="204.6" r="1.6" fill="none" stroke="#3d9a3d" stroke-width="0.5" opacity="0.6"/>
<circle cx="282.4" cy="205.2" r="1.6" fill="none" stroke="#3d9a3d" stroke-width="0.5" opacity="0.6"/>
<circle cx="282.8" cy="199.3" r="1.6" fill="none" stroke="#3d9a3d" stroke-width="0.5" opacity="0.6"/>
<circle cx="283.1" cy="201.2" r="1.6" fill="none" stroke="#3d9a3d" stroke-width="0.5" opacity="0.6"/>
<circle cx="283.5" cy="200.2" r="1.6" fill="none" stroke="#3d9a3d" stroke-width="0.5" opacity="0.6"/>
<circle cx="283.8" cy="200.8" r="1.6" fill="none" stroke="#3d9a3d" stroke-width="0.5" opacity="0.6"/>
<circle cx="284.2" cy="206.0" r="1.6" fill="none" stroke="#3d9a3d" stroke-width="0.5" opacity="0.6"/>
<circle cx="284.6" cy="203.6" r="1.6" fill="none" stroke="#3d9a3d" stroke-width="0.5" opacity="0.6"/>
<circle cx="284.9" cy="205.9" r="1.6" fill="none" stroke="#3d9a3d" stroke-width="0.5" opacity="0.6"/>
<circle cx="285.3" cy="202.6" r="1.6" fill="none" stroke="#3d9a3d" stroke-width="0.5" opacity="0.6"/>
<circle cx="285.7" cy="205.7" r="1.6" fill="none" stroke="#3d9a3d" stroke-width="0.5" opacity="0.6"/>
<circle cx="286.0" cy="203.3" r="1.6" fill="none" stroke="#3d9a3d" stroke-width="0.5" opacity="0.6"/>
<circle cx="286.4" cy="202.3" r="1.6" fill="none" stroke="#3d9a3d" stroke-width="0.5" opacity="0.6"/>
<circle cx="286.7" cy="205.4" r="1.6" fill="none" stroke="#3d9a3d" stroke-width="0.5" opacity="0.6"/>
<circle cx="287.1" cy="206.5" r="1.6" fill="none" stroke="#3d9a3d" stroke-width="0.5" opacity="0.6"/>
<circle cx="287.5" cy="201.9" r="1.6" fill="none" stroke="#3d9a3d" stroke-width="0.5" opacity="0.6"/>
<circle cx="287.8" cy="204.7" r="1.6" fill="none" stroke="#3d9a3d" stroke-width="0.5" opacity="0.6"/>
<circle cx="288.2" cy="205.0" r="1.6" fill="none" stroke="#3d9a3d" stroke-width="0.5" opacity="0.6"/>
<circle cx="288.6" cy="203.0" r="1.6" fill="none" stroke="#3d9a3d" stroke-width="0.5" opacity="0.6"/>
<circle cx="288.9" cy="203.9" r="1.6" fill="none" stroke="#3d9a3d" stroke-width="0.5" opacity="0.6"/>
<circle cx="289.3" cy="203.0" r="1.6" fill="none" stroke="#3d9a3d" stroke-width="0.5" opacity="0.6"/>
<circle cx="289.6" cy="203.4" r="1.6" fill="none" stroke="#3d9a3d" stroke-width="0.5" opacity="0.6"/>
<circle cx="290.0" cy="203.8" r="1.6" fill="none" stroke="#3d9a3d" stroke-width="0.5" opacity="0.6"/>
<circle cx="290.4" cy="205.6" r="1.6" fill="none" stroke="#3d9a3d" stroke-width="0.5" opacity="0.6"/>
<circle cx="290.7" cy="206.0" r="1.6" fill="none" stroke="#3d9a3d" stroke-width="0.5" opacity="0.6"/>
<circle cx="291.1" cy="204.1" r="1.6" fill="none" stroke="#3d9a3d" stroke-width="0.5" opacity="0.6"/>
<circle cx="291.5" cy="203.4" r="1.6" fill="none" stroke="#3d9a3d" stroke-width="0.5" opacity="0.6"/>
<circle cx="291.8" cy="204.9" r="1.6" fill="none" stroke="#3d9a3d" stroke-width="0.5" opacity="0.6"/>
<circle cx="292.2" cy="206.6" r="1.6" fill="none" stroke="#3d9a3d" stroke-width="0.5" opacity="0.6"/>
<circle cx="292.6" cy="204.6" r="1.6" fill="none" stroke="#3d9a3d" stroke-width="0.5" opacity="0.6"/>
<circle cx="292.9" cy="205.3" r="1.6" fill="none" stroke="#3d9a3d" stroke-width="0.5" opacity="0.6"/>
<circle cx="293.3" cy="205.1" r="1.6" fill="none" stroke="#3d9a3d" stroke-width="0.5" opacity="0.6"/>
<circle cx="293.6" cy="207.5" r="1.6" fill="none" stroke="#3d9a3d" stroke-width="0.5" opacity="0.6"/>
<circle cx="294.0" cy="206.7" r="1.6" fill="none" stroke="#3d9a3d" stroke-width="0.5" opacity="0.6"/>
<circle cx="294.4" cy="205.0" r="1.6" fill="none" stroke="#3d9a3d" stroke-width="0.5" opacity="0.6"/>
<circle cx="294.7" cy="205.4" r="1.6" fill="none" stroke="#3d9a3d" stroke-width="0.5" opacity="0.6"/>
<circle cx="295.1" cy="206.5" r="1.6" fill="none" stroke="#3d9a3d" stroke-width="0.5" opacity="0.6"/>
<circle cx="295.5" cy="207.2" r="1.6" fill="none" stroke="#3d9a3d" stroke-width="0.5" opacity="0.6"/>
<circle cx="295.8" cy="207.6" r="1.6" fill="none" stroke="#3d9a3d" stroke-width="0.5" opacity="0.6"/>
<circle cx="296.2" cy="206.0" r="1.6" fill="none" stroke="#3d9a3d" stroke-width="0.5" opacity="0.6"/>
<circle cx="296.5" cy="206.4" r="1.6" fill="none" stroke="#3d9a3d" stroke-width="0.5" opacity="0.6"/>
<circle cx="296.9" cy="208.1" r="1.6" fill="none" stroke="#3d9a3d" stroke-width="0.5" opacity="0.6"/>
<circle cx="297.3" cy="207.5" r="1.6" fill="none" stroke="#3d9a3d" stroke-width="0.5" opacity="0.6"/>
<circle cx="297.6" cy="207.3" r="1.6" fill="none" stroke="#3d9a3d" stroke-width="0.5" opacity="0.6"/>
<circle cx="298.0" cy="207.5" r="1.6" fill="none" stroke="#3d9a3d" stroke-width="0.5" opacity="0.6"/>
<circle cx="278.2" cy="195.4" r="1.7" fill="#2a8a2a" fill-opacity="0.22"/>
<circle cx="271.7" cy="195.2" r="1.7" fill="#2a8a2a" fill-opacity="0.22"/>
<circle cx="270.2" cy="197.6" r="1.7" fill="#2a8a2a" fill-opacity="0.22"/>
<circle cx="278.6" cy="196.0" r="1.7" fill="#2a8a2a" fill-opacity="0.22"/>
<circle cx="276.7" cy="198.8" r="1.7" fill="#2a8a2a" fill-opacity="0.22"/>
<circle cx="275.1" cy="196.3" r="1.7" fill="#2a8a2a" fill-opacity="0.22"/>
<circle cx="278.2" cy="194.7" r="1.7" fill="#2a8a2a" fill-opacity="0.22"/>
<circle cx="276.6" cy="194.0" r="1.7" fill="#2a8a2a" fill-opacity="0.22"/>
<circle cx="278.0" cy="194.4" r="1.7" fill="#2a8a2a" fill-opacity="0.22"/>
<circle cx="275.4" cy="196.4" r="1.7" fill="#2a8a2a" fill-opacity="0.22"/>
<circle cx="270.4" cy="195.1" r="1.7" fill="#2a8a2a" fill-opacity="0.22"/>
<circle cx="276.5" cy="195.4" r="1.7" fill="#2a8a2a" fill-opacity="0.22"/>
<circle cx="272.4" cy="194.5" r="1.7" fill="#2a8a2a" fill-opacity="0.22"/>
<circle cx="272.7" cy="196.0" r="1.7" fill="#2a8a2a" fill-opacity="0.22"/>
<circle cx="274.1" cy="198.5" r="1.7" fill="#2a8a2a" fill-opacity="0.22"/>
<circle cx="276.8" cy="195.5" r="1.7" fill="#2a8a2a" fill-opacity="0.22"/>
<circle cx="269.6" cy="196.2" r="1.7" fill="#2a8a2a" fill-opacity="0.22"/>
<circle cx="277.6" cy="195.7" r="1.7" fill="#2a8a2a" fill-opacity="0.22"/>
<circle cx="279.1" cy="198.4" r="1.7" fill="#2a8a2a" fill-opacity="0.22"/>
<circle cx="279.1" cy="195.6" r="1.7" fill="#2a8a2a" fill-opacity="0.22"/>
<circle cx="280.5" cy="197.1" r="1.7" fill="#2a8a2a" fill-opacity="0.22"/>
<circle cx="270.7" cy="198.2" r="1.7" fill="#2a8a2a" fill-opacity="0.22"/>
<circle cx="271.0" cy="193.8" r="1.7" fill="#2a8a2a" fill-opacity="0.22"/>
<circle cx="277.8" cy="198.6" r="1.7" fill="#2a8a2a" fill-opacity="0.22"/>
<circle cx="275.7" cy="198.2" r="1.7" fill="#2a8a2a" fill-opacity="0.22"/>
<circle cx="278.1" cy="193.4" r="1.7" fill="#2a8a2a" fill-opacity="0.22"/>
<circle cx="276.1" cy="197.5" r="1.7" fill="#2a8a2a" fill-opacity="0.22"/>
<circle cx="271.5" cy="197.5" r="1.7" fill="#2a8a2a" fill-opacity="0.22"/>
<circle cx="273.4" cy="196.8" r="1.7" fill="#2a8a2a" fill-opacity="0.22"/>
<circle cx="275.1" cy="199.0" r="1.7" fill="#2a8a2a" fill-opacity="0.22"/>
<ellipse cx="285.6" cy="193.9" rx="8" ry="2.7" fill="#0c6c0c" fill-opacity="0.55" transform="rotate(-4 285.6 193.9)"/>
<circle cx="286.0" cy="193.7" r="1.6" fill="#0a6e0a" fill-opacity="0.35"/>
<circle cx="276.8" cy="193.8" r="1.6" fill="#0a6e0a" fill-opacity="0.35"/>
<circle cx="293.0" cy="194.2" r="1.6" fill="#0a6e0a" fill-opacity="0.35"/>
<circle cx="290.0" cy="195.3" r="1.6" fill="#0a6e0a" fill-opacity="0.35"/>
<circle cx="277.3" cy="194.0" r="1.6" fill="#0a6e0a" fill-opacity="0.35"/>
<circle cx="282.5" cy="196.2" r="1.6" fill="#0a6e0a" fill-opacity="0.35"/>
<circle cx="279.1" cy="193.7" r="1.6" fill="#0a6e0a" fill-opacity="0.35"/>
<circle cx="280.9" cy="192.8" r="1.6" fill="#0a6e0a" fill-opacity="0.35"/>
<circle cx="283.2" cy="194.5" r="1.6" fill="#0a6e0a" fill-opacity="0.35"/>
<circle cx="279.5" cy="193.2" r="1.6" fill="#0a6e0a" fill-opacity="0.35"/>
<circle cx="285.5" cy="196.7" r="1.6" fill="#0a6e0a" fill-opacity="0.35"/>
<circle cx="285.5" cy="192.1" r="1.6" fill="#0a6e0a" fill-opacity="0.35"/>
<circle cx="287.4" cy="195.8" r="1.6" fill="#0a6e0a" fill-opacity="0.35"/>
<circle cx="287.2" cy="194.7" r="1.6" fill="#0a6e0a" fill-opacity="0.35"/>
<circle cx="281.9" cy="194.8" r="1.6" fill="#0a6e0a" fill-opacity="0.35"/>
<circle cx="278.2" cy="195.5" r="1.6" fill="#0a6e0a" fill-opacity="0.35"/>
<circle cx="291.9" cy="194.2" r="1.6" fill="#0a6e0a" fill-opacity="0.35"/>
<circle cx="291.7" cy="194.9" r="1.6" fill="#0a6e0a" fill-opacity="0.35"/>
<circle cx="285.5" cy="192.0" r="1.6" fill="#0a6e0a" fill-opacity="0.35"/>
<circle cx="290.9" cy="194.4" r="1.6" fill="#0a6e0a" fill-opacity="0.35"/>
<circle cx="278.0" cy="196.8" r="1.6" fill="#0a6e0a" fill-opacity="0.35"/>
<circle cx="290.4" cy="195.8" r="1.6" fill="#0a6e0a" fill-opacity="0.35"/>
<circle cx="292.6" cy="193.5" r="1.6" fill="#0a6e0a" fill-opacity="0.35"/>
<circle cx="286.1" cy="192.9" r="1.6" fill="#0a6e0a" fill-opacity="0.35"/>
<circle cx="291.1" cy="193.4" r="1.6" fill="#0a6e0a" fill-opacity="0.35"/>
<circle cx="293.2" cy="192.7" r="1.6" fill="#0a6e0a" fill-opacity="0.35"/>
<circle cx="289.0" cy="196.1" r="1.6" fill="#0a6e0a" fill-opacity="0.35"/>
<circle cx="286.7" cy="193.7" r="1.6" fill="#0a6e0a" fill-opacity="0.35"/>
<circle cx="279.8" cy="196.7" r="1.6" fill="#0a6e0a" fill-opacity="0.35"/>
<circle cx="289.6" cy="196.2" r="1.6" fill="#0a6e0a" fill-opacity="0.35"/>
<circle cx="283.4" cy="197.0" r="1.6" fill="#0a6e0a" fill-opacity="0.35"/>
<circle cx="288.8" cy="195.5" r="1.6" fill="#0a6e0a" fill-opacity="0.35"/>
<circle cx="288.2" cy="193.2" r="1.6" fill="#0a6e0a" fill-opacity="0.35"/>
<circle cx="284.1" cy="196.4" r="1.6" fill="#0a6e0a" fill-opacity="0.35"/>
<circle cx="283.8" cy="194.8" r="1.6" fill="#0a6e0a" fill-opacity="0.35"/>
<circle cx="286.2" cy="195.2" r="1.6" fill="#0a6e0a" fill-opacity="0.35"/>
<circle cx="291.6" cy="192.7" r="1.6" fill="#0a6e0a" fill-opacity="0.35"/>
<circle cx="287.5" cy="193.2" r="1.6" fill="#0a6e0a" fill-opacity="0.35"/>
<circle cx="285.1" cy="193.2" r="1.6" fill="#0a6e0a" fill-opacity="0.35"/>
<circle cx="277.0" cy="194.3" r="1.6" fill="#0a6e0a" fill-opacity="0.35"/>
<circle cx="279.0" cy="196.8" r="1.6" fill="#0a6e0a" fill-opacity="0.35"/>
<circle cx="277.7" cy="194.0" r="1.6" fill="#0a6e0a" fill-opacity="0.35"/>
<circle cx="286.7" cy="193.4" r="1.6" fill="#0a6e0a" fill-opacity="0.35"/>
<circle cx="292.0" cy="193.5" r="1.6" fill="#0a6e0a" fill-opacity="0.35"/>
<circle cx="278.0" cy="196.4" r="1.6" fill="#0a6e0a" fill-opacity="0.35"/>
<circle cx="283.9" cy="197.2" r="1.6" fill="#0a6e0a" fill-opacity="0.35"/>
<circle cx="279.4" cy="193.8" r="1.6" fill="#0a6e0a" fill-opacity="0.35"/>
<circle cx="284.9" cy="192.2" r="1.6" fill="#0a6e0a" fill-opacity="0.35"/>
<circle cx="288.3" cy="196.2" r="1.6" fill="#0a6e0a" fill-opacity="0.35"/>
<circle cx="292.7" cy="194.4" r="1.6" fill="#0a6e0a" fill-opacity="0.35"/>
<circle cx="284.5" cy="196.6" r="1.6" fill="#0a6e0a" fill-opacity="0.35"/>
<circle cx="291.7" cy="193.4" r="1.6" fill="#0a6e0a" fill-opacity="0.35"/>
<circle cx="281.7" cy="193.0" r="1.6" fill="#0a6e0a" fill-opacity="0.35"/>
<circle cx="286.2" cy="194.1" r="1.6" fill="#0a6e0a" fill-opacity="0.35"/>
<circle cx="289.0" cy="195.7" r="1.6" fill="#0a6e0a" fill-opacity="0.35"/>
<circle cx="278.4" cy="195.6" r="1.6" fill="#0a6e0a" fill-opacity="0.35"/>
<circle cx="287.2" cy="193.3" r="1.6" fill="#0a6e0a" fill-opacity="0.35"/>
<circle cx="285.8" cy="196.5" r="1.6" fill="#0a6e0a" fill-opacity="0.35"/>
<circle cx="285.0" cy="194.2" r="1.6" fill="#0a6e0a" fill-opacity="0.35"/>
<circle cx="282.7" cy="195.1" r="1.6" fill="#0a6e0a" fill-opacity="0.35"/>
<circle cx="281.8" cy="195.5" r="1.6" fill="#0a6e0a" fill-opacity="0.35"/>
<circle cx="278.1" cy="193.6" r="1.6" fill="#0a6e0a" fill-opacity="0.35"/>
<circle cx="286.8" cy="196.3" r="1.6" fill="#0a6e0a" fill-opacity="0.35"/>
<circle cx="281.1" cy="194.6" r="1.6" fill="#0a6e0a" fill-opacity="0.35"/>
<circle cx="288.8" cy="193.3" r="1.6" fill="#0a6e0a" fill-opacity="0.35"/>
<circle cx="286.3" cy="194.8" r="1.6" fill="#0a6e0a" fill-opacity="0.35"/>
<circle cx="278.6" cy="192.5" r="1.6" fill="#0a6e0a" fill-opacity="0.35"/>
<circle cx="285.6" cy="192.2" r="1.6" fill="#0a6e0a" fill-opacity="0.35"/>
<circle cx="284.4" cy="194.5" r="1.6" fill="#0a6e0a" fill-opacity="0.35"/>
<circle cx="280.0" cy="192.8" r="1.6" fill="#0a6e0a" fill-opacity="0.35"/>
<circle cx="304.0" cy="201.1" r="1.6" fill="none" stroke="#3030ff" stroke-width="0.5" opacity="0.65"/>
<circle cx="304.5" cy="202.5" r="1.6" fill="none" stroke="#3030ff" stroke-width="0.5" opacity="0.65"/>
<circle cx="305.0" cy="201.7" r="1.6" fill="none" stroke="#3030ff" stroke-width="0.5" opacity="0.65"/>
<circle cx="305.5" cy="204.0" r="1.6" fill="none" stroke="#3030ff" stroke-width="0.5" opacity="0.65"/>
<circle cx="306.1" cy="203.2" r="1.6" fill="none" stroke="#3030ff" stroke-width="0.5" opacity="0.65"/>
<circle cx="306.6" cy="201.1" r="1.6" fill="none" stroke="#3030ff" stroke-width="0.5" opacity="0.65"/>
<circle cx="307.1" cy="204.1" r="1.6" fill="none" stroke="#3030ff" stroke-width="0.5" opacity="0.65"/>
<circle cx="307.6" cy="200.4" r="1.6" fill="none" stroke="#3030ff" stroke-width="0.5" opacity="0.65"/>
<circle cx="308.1" cy="202.6" r="1.6" fill="none" stroke="#3030ff" stroke-width="0.5" opacity="0.65"/>
<circle cx="308.6" cy="202.1" r="1.6" fill="none" stroke="#3030ff" stroke-width="0.5" opacity="0.65"/>
<circle cx="309.1" cy="201.5" r="1.6" fill="none" stroke="#3030ff" stroke-width="0.5" opacity="0.65"/>
<circle cx="309.6" cy="200.8" r="1.6" fill="none" stroke="#3030ff" stroke-width="0.5" opacity="0.65"/>
<circle cx="310.2" cy="204.0" r="1.6" fill="none" stroke="#3030ff" stroke-width="0.5" opacity="0.65"/>
<circle cx="310.7" cy="200.7" r="1.6" fill="none" stroke="#3030ff" stroke-width="0.5" opacity="0.65"/>
<circle cx="311.2" cy="203.2" r="1.6" fill="none" stroke="#3030ff" stroke-width="0.5" opacity="0.65"/>
<circle cx="311.7" cy="205.0" r="1.6" fill="none" stroke="#3030ff" stroke-width="0.5" opacity="0.65"/>
<circle cx="312.2" cy="201.5" r="1.6" fill="none" stroke="#3030ff" stroke-width="0.5" opacity="0.65"/>
<circle cx="312.7" cy="201.9" r="1.6" fill="none" stroke="#3030ff" stroke-width="0.5" opacity="0.65"/>
<circle cx="313.2" cy="203.8" r="1.6" fill="none" stroke="#3030ff" stroke-width="0.5" opacity="0.65"/>
<circle cx="313.7" cy="203.4" r="1.6" fill="none" stroke="#3030ff" stroke-width="0.5" opacity="0.65"/>
<circle cx="314.3" cy="204.1" r="1.6" fill="none" stroke="#3030ff" stroke-width="0.5" opacity="0.65"/>
<circle cx="314.8" cy="204.9" r="1.6" fill="none" stroke="#3030ff" stroke-width="0.5" opacity="0.65"/>
<circle cx="315.3" cy="202.2" r="1.6" fill="none" stroke="#3030ff" stroke-width="0.5" opacity="0.65"/>
<circle cx="315.8" cy="202.8" r="1.6" fill="none" stroke="#3030ff" stroke-width="0.5" opacity="0.65"/>
<circle cx="316.3" cy="202.9" r="1.6" fill="none" stroke="#3030ff" stroke-width="0.5" opacity="0.65"/>
<circle cx="316.8" cy="201.9" r="1.6" fill="none" stroke="#3030ff" stroke-width="0.5" opacity="0.65"/>
<circle cx="317.3" cy="205.6" r="1.6" fill="none" stroke="#3030ff" stroke-width="0.5" opacity="0.65"/>
<circle cx="317.8" cy="205.3" r="1.6" fill="none" stroke="#3030ff" stroke-width="0.5" opacity="0.65"/>
<circle cx="318.4" cy="205.0" r="1.6" fill="none" stroke="#3030ff" stroke-width="0.5" opacity="0.65"/>
<circle cx="318.9" cy="202.0" r="1.6" fill="none" stroke="#3030ff" stroke-width="0.5" opacity="0.65"/>
<circle cx="319.4" cy="205.8" r="1.6" fill="none" stroke="#3030ff" stroke-width="0.5" opacity="0.65"/>
<circle cx="319.9" cy="205.4" r="1.6" fill="none" stroke="#3030ff" stroke-width="0.5" opacity="0.65"/>
<circle cx="320.4" cy="204.3" r="1.6" fill="none" stroke="#3030ff" stroke-width="0.5" opacity="0.65"/>
<circle cx="320.9" cy="205.6" r="1.6" fill="none" stroke="#3030ff" stroke-width="0.5" opacity="0.65"/>
<circle cx="321.4" cy="204.4" r="1.6" fill="none" stroke="#3030ff" stroke-width="0.5" opacity="0.65"/>
<circle cx="321.9" cy="203.5" r="1.6" fill="none" stroke="#3030ff" stroke-width="0.5" opacity="0.65"/>
<circle cx="322.5" cy="203.0" r="1.6" fill="none" stroke="#3030ff" stroke-width="0.5" opacity="0.65"/>
<circle cx="323.0" cy="203.7" r="1.6" fill="none" stroke="#3030ff" stroke-width="0.5" opacity="0.65"/>
<circle cx="323.5" cy="202.9" r="1.6" fill="none" stroke="#3030ff" stroke-width="0.5" opacity="0.65"/>
<circle cx="324.0" cy="204.3" r="1.6" fill="none" stroke="#3030ff" stroke-width="0.5" opacity="0.65"/>
<ellipse cx="309.8" cy="196.9" rx="11" ry="3.1" fill="#0808f0" fill-opacity="0.6" transform="rotate(-3 309.8 196.9)"/>
<circle cx="309.9" cy="194.4" r="1.6" fill="#0000f0" fill-opacity="0.4"/>
<circle cx="315.1" cy="194.6" r="1.6" fill="#0000f0" fill-opacity="0.4"/>
<circle cx="309.3" cy="199.3" r="1.6" fill="#0000f0" fill-opacity="0.4"/>
<circle cx="301.1" cy="198.5" r="1.6" fill="#0000f0" fill-opacity="0.4"/>
<circle cx="304.4" cy="197.0" r="1.6" fill="#0000f0" fill-opacity="0.4"/>
<circle cx="303.1" cy="195.0" r="1.6" fill="#0000f0" fill-opacity="0.4"/>
<circle cx="312.3" cy="199.7" r="1.6" fill="#0000f0" fill-opacity="0.4"/>
<circle cx="315.6" cy="196.9" r="1.6" fill="#0000f0" fill-opacity="0.4"/>
<circle cx="311.0" cy="199.6" r="1.6" fill="#0000f0" fill-opacity="0.4"/>
<circle cx="318.9" cy="195.6" r="1.6" fill="#0000f0" fill-opacity="0.4"/>
<circle cx="305.3" cy="199.8" r="1.6" fill="#0000f0" fill-opacity="0.4"/>
<circle cx="307.5" cy="198.5" r="1.6" fill="#0000f0" fill-opacity="0.4"/>
<circle cx="317.2" cy="195.3" r="1.6" fill="#0000f0" fill-opacity="0.4"/>
<circle cx="306.7" cy="194.8" r="1.6" fill="#0000f0" fill-opacity="0.4"/>
<circle cx="317.4" cy="196.3" r="1.6" fill="#0000f0" fill-opacity="0.4"/>
<circle cx="314.8" cy="194.6" r="1.6" fill="#0000f0" fill-opacity="0.4"/>
<circle cx="314.5" cy="195.2" r="1.6" fill="#0000f0" fill-opacity="0.4"/>
<circle cx="308.6" cy="194.8" r="1.6" fill="#0000f0" fill-opacity="0.4"/>
<circle cx="308.3" cy="198.4" r="1.6" fill="#0000f0" fill-opacity="0.4"/>
<circle cx="307.8" cy="196.5" r="1.6" fill="#0000f0" fill-opacity="0.4"/>
<circle cx="313.5" cy="196.2" r="1.6" fill="#0000f0" fill-opacity="0.4"/>
<circle cx="313.5" cy="197.0" r="1.6" fill="#0000f0" fill-opacity="0.4"/>
<circle cx="315.8" cy="195.9" r="1.6" fill="#0000f0" fill-opacity="0.4"/>
<circle cx="311.2" cy="197.3" r="1.6" fill="#0000f0" fill-opacity="0.4"/>
<circle cx="318.9" cy="197.2" r="1.6" fill="#0000f0" fill-opacity="0.4"/>
<circle cx="303.8" cy="195.4" r="1.6" fill="#0000f0" fill-opacity="0.4"/>
<circle cx="309.7" cy="196.2" r="1.6" fill="#0000f0" fill-opacity="0.4"/>
<circle cx="304.4" cy="196.3" r="1.6" fill="#0000f0" fill-opacity="0.4"/>
<circle cx="314.0" cy="194.2" r="1.6" fill="#0000f0" fill-opacity="0.4"/>
<circle cx="312.2" cy="196.4" r="1.6" fill="#0000f0" fill-opacity="0.4"/>
<circle cx="317.0" cy="194.5" r="1.6" fill="#0000f0" fill-opacity="0.4"/>
<circle cx="313.4" cy="196.5" r="1.6" fill="#0000f0" fill-opacity="0.4"/>
<circle cx="311.1" cy="197.9" r="1.6" fill="#0000f0" fill-opacity="0.4"/>
<circle cx="319.9" cy="197.1" r="1.6" fill="#0000f0" fill-opacity="0.4"/>
<circle cx="313.2" cy="194.6" r="1.6" fill="#0000f0" fill-opacity="0.4"/>
<circle cx="313.9" cy="194.6" r="1.6" fill="#0000f0" fill-opacity="0.4"/>
<circle cx="309.2" cy="198.0" r="1.6" fill="#0000f0" fill-opacity="0.4"/>
<circle cx="317.9" cy="198.2" r="1.6" fill="#0000f0" fill-opacity="0.4"/>
<circle cx="311.8" cy="198.6" r="1.6" fill="#0000f0" fill-opacity="0.4"/>
<circle cx="308.6" cy="197.3" r="1.6" fill="#0000f0" fill-opacity="0.4"/>
<circle cx="309.8" cy="198.7" r="1.6" fill="#0000f0" fill-opacity="0.4"/>
<circle cx="308.5" cy="195.2" r="1.6" fill="#0000f0" fill-opacity="0.4"/>
<circle cx="305.5" cy="200.0" r="1.6" fill="#0000f0" fill-opacity="0.4"/>
<circle cx="299.9" cy="197.4" r="1.6" fill="#0000f0" fill-opacity="0.4"/>
<circle cx="308.6" cy="196.7" r="1.6" fill="#0000f0" fill-opacity="0.4"/>
<circle cx="303.9" cy="198.4" r="1.6" fill="#0000f0" fill-opacity="0.4"/>
<circle cx="310.8" cy="195.1" r="1.6" fill="#0000f0" fill-opacity="0.4"/>
<circle cx="307.6" cy="194.9" r="1.6" fill="#0000f0" fill-opacity="0.4"/>
<circle cx="312.3" cy="199.7" r="1.6" fill="#0000f0" fill-opacity="0.4"/>
<circle cx="318.4" cy="198.1" r="1.6" fill="#0000f0" fill-opacity="0.4"/>
<circle cx="310.2" cy="197.1" r="1.6" fill="#0000f0" fill-opacity="0.4"/>
<circle cx="313.0" cy="199.4" r="1.6" fill="#0000f0" fill-opacity="0.4"/>
<circle cx="310.7" cy="196.9" r="1.6" fill="#0000f0" fill-opacity="0.4"/>
<circle cx="302.3" cy="197.5" r="1.6" fill="#0000f0" fill-opacity="0.4"/>
<circle cx="311.3" cy="195.7" r="1.6" fill="#0000f0" fill-opacity="0.4"/>
<circle cx="303.5" cy="197.4" r="1.6" fill="#0000f0" fill-opacity="0.4"/>
<circle cx="312.7" cy="195.5" r="1.6" fill="#0000f0" fill-opacity="0.4"/>
<circle cx="315.5" cy="196.2" r="1.6" fill="#0000f0" fill-opacity="0.4"/>
<circle cx="312.1" cy="199.4" r="1.6" fill="#0000f0" fill-opacity="0.4"/>
<circle cx="306.4" cy="197.2" r="1.6" fill="#0000f0" fill-opacity="0.4"/>
<circle cx="307.9" cy="196.4" r="1.6" fill="#0000f0" fill-opacity="0.4"/>
<circle cx="312.0" cy="194.4" r="1.6" fill="#0000f0" fill-opacity="0.4"/>
<circle cx="311.9" cy="194.5" r="1.6" fill="#0000f0" fill-opacity="0.4"/>
<circle cx="305.8" cy="198.8" r="1.6" fill="#0000f0" fill-opacity="0.4"/>
<circle cx="301.9" cy="199.2" r="1.6" fill="#0000f0" fill-opacity="0.4"/>
<circle cx="318.9" cy="198.1" r="1.6" fill="#0000f0" fill-opacity="0.4"/>
<circle cx="314.9" cy="197.0" r="1.6" fill="#0000f0" fill-opacity="0.4"/>
<circle cx="309.3" cy="200.0" r="1.6" fill="#0000f0" fill-opacity="0.4"/>
<circle cx="303.2" cy="197.3" r="1.6" fill="#0000f0" fill-opacity="0.4"/>
<circle cx="313.9" cy="195.8" r="1.6" fill="#0000f0" fill-opacity="0.4"/>
<circle cx="304.8" cy="197.5" r="1.5" fill="#0000b0" fill-opacity="0.3"/>
<circle cx="309.1" cy="195.6" r="1.5" fill="#0000b0" fill-opacity="0.3"/>
<circle cx="306.8" cy="196.4" r="1.5" fill="#0000b0" fill-opacity="0.3"/>
<circle cx="307.9" cy="197.6" r="1.5" fill="#0000b0" fill-opacity="0.3"/>
<circle cx="311.6" cy="195.8" r="1.5" fill="#0000b0" fill-opacity="0.3"/>
<circle cx="308.8" cy="196.3" r="1.5" fill="#0000b0" fill-opacity="0.3"/>
<circle cx="304.1" cy="197.8" r="1.5" fill="#0000b0" fill-opacity="0.3"/>
<circle cx="307.1" cy="196.8" r="1.5" fill="#0000b0" fill-opacity="0.3"/>
<circle cx="303.5" cy="197.6" r="1.5" fill="#0000b0" fill-opacity="0.3"/>
<circle cx="309.2" cy="197.7" r="1.5" fill="#0000b0" fill-opacity="0.3"/>
<circle cx="307.5" cy="198.4" r="1.5" fill="#0000b0" fill-opacity="0.3"/>
<circle cx="310.3" cy="196.4" r="1.5" fill="#0000b0" fill-opacity="0.3"/>
<circle cx="310.7" cy="197.6" r="1.5" fill="#0000b0" fill-opacity="0.3"/>
<circle cx="307.0" cy="198.1" r="1.5" fill="#0000b0" fill-opacity="0.3"/>
<circle cx="310.9" cy="197.7" r="1.5" fill="#0000b0" fill-opacity="0.3"/>
<circle cx="311.3" cy="198.4" r="1.5" fill="#0000b0" fill-opacity="0.3"/>
<circle cx="308.7" cy="196.5" r="1.5" fill="#0000b0" fill-opacity="0.3"/>
<circle cx="310.9" cy="196.8" r="1.5" fill="#0000b0" fill-opacity="0.3"/>
<circle cx="304.6" cy="198.3" r="1.5" fill="#0000b0" fill-opacity="0.3"/>
<circle cx="310.4" cy="195.6" r="1.5" fill="#0000b0" fill-opacity="0.3"/>
<circle cx="306.6" cy="197.4" r="1.5" fill="#0000b0" fill-opacity="0.3"/>
<circle cx="307.7" cy="196.7" r="1.5" fill="#0000b0" fill-opacity="0.3"/>
<circle cx="310.1" cy="197.9" r="1.5" fill="#0000b0" fill-opacity="0.3"/>
<circle cx="312.7" cy="197.0" r="1.5" fill="#0000b0" fill-opacity="0.3"/>
<circle cx="310.2" cy="195.6" r="1.5" fill="#0000b0" fill-opacity="0.3"/>
<circle cx="330.0" cy="207.3" r="1.6" fill="none" stroke="#902090" stroke-width="0.5" opacity="0.65"/>
<circle cx="330.4" cy="208.2" r="1.6" fill="none" stroke="#902090" stroke-width="0.5" opacity="0.65"/>
<circle cx="330.9" cy="207.2" r="1.6" fill="none" stroke="#902090" stroke-width="0.5" opacity="0.65"/>
<circle cx="331.3" cy="205.3" r="1.6" fill="none" stroke="#902090" stroke-width="0.5" opacity="0.65"/>
<circle cx="331.8" cy="208.2" r="1.6" fill="none" stroke="#902090" stroke-width="0.5" opacity="0.65"/>
<circle cx="332.2" cy="207.0" r="1.6" fill="none" stroke="#902090" stroke-width="0.5" opacity="0.65"/>
<circle cx="332.7" cy="209.1" r="1.6" fill="none" stroke="#902090" stroke-width="0.5" opacity="0.65"/>
<circle cx="333.1" cy="210.2" r="1.6" fill="none" stroke="#902090" stroke-width="0.5" opacity="0.65"/>
<circle cx="333.6" cy="207.4" r="1.6" fill="none" stroke="#902090" stroke-width="0.5" opacity="0.65"/>
<circle cx="334.0" cy="208.3" r="1.6" fill="none" stroke="#902090" stroke-width="0.5" opacity="0.65"/>
<circle cx="334.4" cy="209.4" r="1.6" fill="none" stroke="#902090" stroke-width="0.5" opacity="0.65"/>
<circle cx="334.9" cy="207.5" r="1.6" fill="none" stroke="#902090" stroke-width="0.5" opacity="0.65"/>
<circle cx="335.3" cy="206.4" r="1.6" fill="none" stroke="#902090" stroke-width="0.5" opacity="0.65"/>
<circle cx="335.8" cy="209.4" r="1.6" fill="none" stroke="#902090" stroke-width="0.5" opacity="0.65"/>
<circle cx="336.2" cy="210.4" r="1.6" fill="none" stroke="#902090" stroke-width="0.5" opacity="0.65"/>
<circle cx="336.7" cy="209.8" r="1.6" fill="none" stroke="#902090" stroke-width="0.5" opacity="0.65"/>
<circle cx="337.1" cy="209.4" r="1.6" fill="none" stroke="#902090" stroke-width="0.5" opacity="0.65"/>
<circle cx="337.6" cy="210.4" r="1.6" fill="none" stroke="#902090" stroke-width="0.5" opacity="0.65"/>
<circle cx="338.0" cy="209.4" r="1.6" fill="none" stroke="#902090" stroke-width="0.5" opacity="0.65"/>
<circle cx="338.4" cy="209.3" r="1.6" fill="none" stroke="#902090" stroke-width="0.5" opacity="0.65"/>
<circle cx="338.9" cy="208.2" r="1.6" fill="none" stroke="#902090" stroke-width="0.5" opacity="0.65"/>
<circle cx="339.3" cy="207.4" r="1.6" fill="none" stroke="#902090" stroke-width="0.5" opacity="0.65"/>
<circle cx="339.8" cy="209.4" r="1.6" fill="none" stroke="#902090" stroke-width="0.5" opacity="0.65"/>
<circle cx="340.2" cy="206.3" r="1.6" fill="none" stroke="#902090" stroke-width="0.5" opacity="0.65"/>
<circle cx="340.7" cy="208.2" r="1.6" fill="none" stroke="#902090" stroke-width="0.5" opacity="0.65"/>
<circle cx="341.1" cy="210.5" r="1.6" fill="none" stroke="#902090" stroke-width="0.5" opacity="0.65"/>
<circle cx="341.6" cy="210.1" r="1.6" fill="none" stroke="#902090" stroke-width="0.5" opacity="0.65"/>
<circle cx="342.0" cy="209.7" r="1.6" fill="none" stroke="#902090" stroke-width="0.5" opacity="0.65"/>
<circle cx="342.4" cy="207.5" r="1.6" fill="none" stroke="#902090" stroke-width="0.5" opacity="0.65"/>
<circle cx="342.9" cy="208.6" r="1.6" fill="none" stroke="#902090" stroke-width="0.5" opacity="0.65"/>
<circle cx="343.3" cy="208.8" r="1.6" fill="none" stroke="#902090" stroke-width="0.5" opacity="0.65"/>
<circle cx="343.8" cy="209.9" r="1.6" fill="none" stroke="#902090" stroke-width="0.5" opacity="0.65"/>
<circle cx="344.2" cy="208.7" r="1.6" fill="none" stroke="#902090" stroke-width="0.5" opacity="0.65"/>
<circle cx="344.7" cy="210.3" r="1.6" fill="none" stroke="#902090" stroke-width="0.5" opacity="0.65"/>
<circle cx="345.1" cy="211.9" r="1.6" fill="none" stroke="#902090" stroke-width="0.5" opacity="0.65"/>
<circle cx="345.6" cy="207.5" r="1.6" fill="none" stroke="#902090" stroke-width="0.5" opacity="0.65"/>
<circle cx="346.0" cy="210.4" r="1.6" fill="none" stroke="#902090" stroke-width="0.5" opacity="0.65"/>
<circle cx="346.4" cy="211.2" r="1.6" fill="none" stroke="#902090" stroke-width="0.5" opacity="0.65"/>
<circle cx="346.9" cy="208.9" r="1.6" fill="none" stroke="#902090" stroke-width="0.5" opacity="0.65"/>
<circle cx="347.3" cy="209.6" r="1.6" fill="none" stroke="#902090" stroke-width="0.5" opacity="0.65"/>
<circle cx="347.8" cy="212.5" r="1.6" fill="none" stroke="#902090" stroke-width="0.5" opacity="0.65"/>
<circle cx="348.2" cy="207.0" r="1.6" fill="none" stroke="#902090" stroke-width="0.5" opacity="0.65"/>
<circle cx="348.7" cy="210.0" r="1.6" fill="none" stroke="#902090" stroke-width="0.5" opacity="0.65"/>
<circle cx="349.1" cy="207.8" r="1.6" fill="none" stroke="#902090" stroke-width="0.5" opacity="0.65"/>
<circle cx="349.6" cy="211.6" r="1.6" fill="none" stroke="#902090" stroke-width="0.5" opacity="0.65"/>
<circle cx="350.0" cy="212.6" r="1.6" fill="none" stroke="#902090" stroke-width="0.5" opacity="0.65"/>
<circle cx="350.4" cy="210.1" r="1.6" fill="none" stroke="#902090" stroke-width="0.5" opacity="0.65"/>
<circle cx="350.9" cy="207.7" r="1.6" fill="none" stroke="#902090" stroke-width="0.5" opacity="0.65"/>
<circle cx="351.3" cy="210.6" r="1.6" fill="none" stroke="#902090" stroke-width="0.5" opacity="0.65"/>
<circle cx="351.8" cy="210.4" r="1.6" fill="none" stroke="#902090" stroke-width="0.5" opacity="0.65"/>
<circle cx="352.2" cy="211.6" r="1.6" fill="none" stroke="#902090" stroke-width="0.5" opacity="0.65"/>
<circle cx="352.7" cy="210.4" r="1.6" fill="none" stroke="#902090" stroke-width="0.5" opacity="0.65"/>
<circle cx="353.1" cy="211.2" r="1.6" fill="none" stroke="#902090" stroke-width="0.5" opacity="0.65"/>
<circle cx="353.6" cy="212.4" r="1.6" fill="none" stroke="#902090" stroke-width="0.5" opacity="0.65"/>
<circle cx="354.0" cy="210.6" r="1.6" fill="none" stroke="#902090" stroke-width="0.5" opacity="0.65"/>
<ellipse cx="340.6" cy="202.3" rx="9.2" ry="3.0" fill="#800080" fill-opacity="0.6" transform="rotate(-7 340.6 202.3)"/>
<circle cx="333.2" cy="205.0" r="1.6" fill="#800080" fill-opacity="0.4"/>
<circle cx="342.7" cy="204.7" r="1.6" fill="#800080" fill-opacity="0.4"/>
<circle cx="334.5" cy="204.9" r="1.6" fill="#800080" fill-opacity="0.4"/>
<circle cx="347.3" cy="203.8" r="1.6" fill="#800080" fill-opacity="0.4"/>
<circle cx="339.2" cy="203.3" r="1.6" fill="#800080" fill-opacity="0.4"/>
<circle cx="339.8" cy="204.5" r="1.6" fill="#800080" fill-opacity="0.4"/>
<circle cx="346.4" cy="202.0" r="1.6" fill="#800080" fill-opacity="0.4"/>
<circle cx="333.9" cy="204.6" r="1.6" fill="#800080" fill-opacity="0.4"/>
<circle cx="337.8" cy="204.1" r="1.6" fill="#800080" fill-opacity="0.4"/>
<circle cx="342.1" cy="204.9" r="1.6" fill="#800080" fill-opacity="0.4"/>
<circle cx="346.6" cy="201.1" r="1.6" fill="#800080" fill-opacity="0.4"/>
<circle cx="342.4" cy="204.9" r="1.6" fill="#800080" fill-opacity="0.4"/>
<circle cx="337.3" cy="203.8" r="1.6" fill="#800080" fill-opacity="0.4"/>
<circle cx="346.3" cy="203.8" r="1.6" fill="#800080" fill-opacity="0.4"/>
<circle cx="342.9" cy="200.1" r="1.6" fill="#800080" fill-opacity="0.4"/>
<circle cx="333.8" cy="203.8" r="1.6" fill="#800080" fill-opacity="0.4"/>
<circle cx="342.2" cy="205.2" r="1.6" fill="#800080" fill-opacity="0.4"/>
<circle cx="336.3" cy="205.0" r="1.6" fill="#800080" fill-opacity="0.4"/>
<circle cx="343.7" cy="199.8" r="1.6" fill="#800080" fill-opacity="0.4"/>
<circle cx="335.7" cy="203.5" r="1.6" fill="#800080" fill-opacity="0.4"/>
<circle cx="337.4" cy="202.7" r="1.6" fill="#800080" fill-opacity="0.4"/>
<circle cx="343.1" cy="200.8" r="1.6" fill="#800080" fill-opacity="0.4"/>
<circle cx="343.1" cy="201.1" r="1.6" fill="#800080" fill-opacity="0.4"/>
<circle cx="337.3" cy="204.0" r="1.6" fill="#800080" fill-opacity="0.4"/>
<circle cx="337.0" cy="203.6" r="1.6" fill="#800080" fill-opacity="0.4"/>
<circle cx="348.3" cy="201.7" r="1.6" fill="#800080" fill-opacity="0.4"/>
<circle cx="339.8" cy="204.1" r="1.6" fill="#800080" fill-opacity="0.4"/>
<circle cx="338.7" cy="204.7" r="1.6" fill="#800080" fill-opacity="0.4"/>
<circle cx="334.1" cy="204.4" r="1.6" fill="#800080" fill-opacity="0.4"/>
<circle cx="337.4" cy="201.5" r="1.6" fill="#800080" fill-opacity="0.4"/>
<circle cx="348.0" cy="200.5" r="1.6" fill="#800080" fill-opacity="0.4"/>
<circle cx="348.4" cy="202.6" r="1.6" fill="#800080" fill-opacity="0.4"/>
<circle cx="347.0" cy="200.4" r="1.6" fill="#800080" fill-opacity="0.4"/>
<circle cx="346.0" cy="204.0" r="1.6" fill="#800080" fill-opacity="0.4"/>
<circle cx="339.7" cy="202.4" r="1.6" fill="#800080" fill-opacity="0.4"/>
<circle cx="349.4" cy="201.7" r="1.6" fill="#800080" fill-opacity="0.4"/>
<circle cx="337.8" cy="201.7" r="1.6" fill="#800080" fill-opacity="0.4"/>
<circle cx="343.4" cy="202.9" r="1.6" fill="#800080" fill-opacity="0.4"/>
<circle cx="341.6" cy="205.0" r="1.6" fill="#800080" fill-opacity="0.4"/>
<circle cx="338.6" cy="203.8" r="1.6" fill="#800080" fill-opacity="0.4"/>
<circle cx="347.0" cy="200.3" r="1.6" fill="#800080" fill-opacity="0.4"/>
<circle cx="345.0" cy="204.5" r="1.6" fill="#800080" fill-opacity="0.4"/>
<circle cx="334.0" cy="201.8" r="1.6" fill="#800080" fill-opacity="0.4"/>
<circle cx="336.0" cy="200.7" r="1.6" fill="#800080" fill-opacity="0.4"/>
<circle cx="342.2" cy="199.8" r="1.6" fill="#800080" fill-opacity="0.4"/>
<circle cx="343.2" cy="204.6" r="1.6" fill="#800080" fill-opacity="0.4"/>
<circle cx="332.7" cy="203.1" r="1.6" fill="#800080" fill-opacity="0.4"/>
<circle cx="332.7" cy="204.6" r="1.6" fill="#800080" fill-opacity="0.4"/>
<circle cx="336.0" cy="202.6" r="1.6" fill="#800080" fill-opacity="0.4"/>
<circle cx="341.0" cy="203.6" r="1.6" fill="#800080" fill-opacity="0.4"/>
<circle cx="338.3" cy="202.9" r="1.6" fill="#800080" fill-opacity="0.4"/>
<circle cx="337.1" cy="203.2" r="1.6" fill="#800080" fill-opacity="0.4"/>
<circle cx="334.1" cy="203.5" r="1.6" fill="#800080" fill-opacity="0.4"/>
<circle cx="332.2" cy="202.9" r="1.6" fill="#800080" fill-opacity="0.4"/>
<circle cx="348.9" cy="201.7" r="1.6" fill="#800080" fill-opacity="0.4"/>
<circle cx="333.8" cy="203.8" r="1.6" fill="#800080" fill-opacity="0.4"/>
<circle cx="336.0" cy="200.8" r="1.6" fill="#800080" fill-opacity="0.4"/>
<circle cx="336.5" cy="204.4" r="1.6" fill="#800080" fill-opacity="0.4"/>
<circle cx="342.9" cy="202.1" r="1.6" fill="#800080" fill-opacity="0.4"/>
<circle cx="335.5" cy="201.4" r="1.6" fill="#800080" fill-opacity="0.4"/>
<circle cx="352.0" cy="210.3" r="1.7" fill="#f3e6f3" stroke="#b060b0" stroke-width="0.65"/>
<circle cx="354.6" cy="210.5" r="1.7" fill="#f3e6f3" stroke="#b060b0" stroke-width="0.65"/>
<circle cx="357.2" cy="210.2" r="1.7" fill="#f3e6f3" stroke="#b060b0" stroke-width="0.65"/>
<circle cx="359.9" cy="210.1" r="1.7" fill="#f3e6f3" stroke="#b060b0" stroke-width="0.65"/>
<circle cx="362.5" cy="209.1" r="1.7" fill="#f3e6f3" stroke="#b060b0" stroke-width="0.65"/>
<circle cx="365.1" cy="209.4" r="1.7" fill="#f3e6f3" stroke="#b060b0" stroke-width="0.65"/>
<circle cx="367.7" cy="208.5" r="1.7" fill="#f3e6f3" stroke="#b060b0" stroke-width="0.65"/>
<circle cx="370.3" cy="208.1" r="1.7" fill="#f3e6f3" stroke="#b060b0" stroke-width="0.65"/>
<circle cx="373.0" cy="208.1" r="1.7" fill="#f3e6f3" stroke="#b060b0" stroke-width="0.65"/>
<circle cx="375.6" cy="206.9" r="1.7" fill="#f3e6f3" stroke="#b060b0" stroke-width="0.65"/>
<circle cx="378.2" cy="207.2" r="1.7" fill="#f3e6f3" stroke="#b060b0" stroke-width="0.65"/>
<circle cx="380.8" cy="206.7" r="1.7" fill="#f3e6f3" stroke="#b060b0" stroke-width="0.65"/>
<circle cx="383.4" cy="206.0" r="1.7" fill="#f3e6f3" stroke="#b060b0" stroke-width="0.65"/>
<circle cx="386.1" cy="206.1" r="1.7" fill="#f3e6f3" stroke="#b060b0" stroke-width="0.65"/>
<circle cx="388.7" cy="205.3" r="1.7" fill="#f3e6f3" stroke="#b060b0" stroke-width="0.65"/>
<circle cx="391.3" cy="205.0" r="1.7" fill="#f3e6f3" stroke="#b060b0" stroke-width="0.65"/>
<circle cx="393.9" cy="204.6" r="1.7" fill="#f3e6f3" stroke="#b060b0" stroke-width="0.65"/>
<circle cx="396.6" cy="204.5" r="1.7" fill="#f3e6f3" stroke="#b060b0" stroke-width="0.65"/>
<circle cx="399.2" cy="203.6" r="1.7" fill="#f3e6f3" stroke="#b060b0" stroke-width="0.65"/>
<circle cx="401.8" cy="203.4" r="1.7" fill="#f3e6f3" stroke="#b060b0" stroke-width="0.65"/>
<circle cx="404.4" cy="203.0" r="1.7" fill="#f3e6f3" stroke="#b060b0" stroke-width="0.65"/>
<circle cx="407.0" cy="202.7" r="1.7" fill="#f3e6f3" stroke="#b060b0" stroke-width="0.65"/>
<circle cx="409.7" cy="202.6" r="1.7" fill="#f3e6f3" stroke="#b060b0" stroke-width="0.65"/>
<circle cx="412.3" cy="201.7" r="1.7" fill="#f3e6f3" stroke="#b060b0" stroke-width="0.65"/>
<circle cx="414.9" cy="201.9" r="1.7" fill="#f3e6f3" stroke="#b060b0" stroke-width="0.65"/>
<circle cx="417.5" cy="201.0" r="1.7" fill="#f3e6f3" stroke="#b060b0" stroke-width="0.65"/>
<circle cx="420.1" cy="200.8" r="1.7" fill="#f3e6f3" stroke="#b060b0" stroke-width="0.65"/>
<circle cx="422.8" cy="200.1" r="1.7" fill="#f3e6f3" stroke="#b060b0" stroke-width="0.65"/>
<circle cx="425.4" cy="200.0" r="1.7" fill="#f3e6f3" stroke="#b060b0" stroke-width="0.65"/>
<circle cx="428.0" cy="200.1" r="1.7" fill="#f3e6f3" stroke="#b060b0" stroke-width="0.65"/>
<circle cx="421.9" cy="201.4" r="1.8" fill="#e00000" fill-opacity="0.55"/>
<circle cx="425.1" cy="205.7" r="1.8" fill="#e00000" fill-opacity="0.55"/>
<circle cx="425.7" cy="206.6" r="1.8" fill="#e00000" fill-opacity="0.55"/>
<circle cx="421.0" cy="201.8" r="1.8" fill="#e00000" fill-opacity="0.55"/>
<circle cx="437.5" cy="203.2" r="1.8" fill="#e00000" fill-opacity="0.55"/>
<circle cx="434.1" cy="200.9" r="1.8" fill="#e00000" fill-opacity="0.55"/>
<circle cx="434.0" cy="203.4" r="1.8" fill="#e00000" fill-opacity="0.55"/>
<circle cx="433.0" cy="203.0" r="1.8" fill="#e00000" fill-opacity="0.55"/>
<circle cx="435.7" cy="201.2" r="1.8" fill="#e00000" fill-opacity="0.55"/>
<circle cx="422.1" cy="201.4" r="1.8" fill="#e00000" fill-opacity="0.55"/>
<circle cx="435.3" cy="201.0" r="1.8" fill="#e00000" fill-opacity="0.55"/>
<circle cx="421.0" cy="202.3" r="1.8" fill="#e00000" fill-opacity="0.55"/>
<circle cx="424.8" cy="201.1" r="1.8" fill="#e00000" fill-opacity="0.55"/>
<circle cx="425.6" cy="202.2" r="1.8" fill="#e00000" fill-opacity="0.55"/>
<circle cx="423.9" cy="201.8" r="1.8" fill="#e00000" fill-opacity="0.55"/>
<circle cx="428.1" cy="202.3" r="1.8" fill="#e00000" fill-opacity="0.55"/>
<circle cx="429.0" cy="204.0" r="1.8" fill="#e00000" fill-opacity="0.55"/>
<circle cx="429.2" cy="199.7" r="1.8" fill="#e00000" fill-opacity="0.55"/>
<circle cx="423.9" cy="202.1" r="1.8" fill="#e00000" fill-opacity="0.55"/>
<circle cx="432.1" cy="200.0" r="1.8" fill="#e00000" fill-opacity="0.55"/>
<circle cx="422.5" cy="203.4" r="1.8" fill="#e00000" fill-opacity="0.55"/>
<circle cx="425.9" cy="206.1" r="1.8" fill="#e00000" fill-opacity="0.55"/>
<circle cx="425.1" cy="206.1" r="1.8" fill="#e00000" fill-opacity="0.55"/>
<circle cx="420.7" cy="201.5" r="1.8" fill="#e00000" fill-opacity="0.55"/>
<circle cx="436.2" cy="203.5" r="1.8" fill="#e00000" fill-opacity="0.55"/>
<circle cx="431.9" cy="203.4" r="1.8" fill="#e00000" fill-opacity="0.55"/>
<circle cx="430.9" cy="200.5" r="1.8" fill="#e00000" fill-opacity="0.55"/>
<circle cx="434.5" cy="201.5" r="1.8" fill="#e00000" fill-opacity="0.55"/>
<circle cx="435.1" cy="202.9" r="1.8" fill="#e00000" fill-opacity="0.55"/>
<circle cx="418.5" cy="202.6" r="1.8" fill="#e00000" fill-opacity="0.55"/>
<circle cx="435.8" cy="202.2" r="1.8" fill="#e00000" fill-opacity="0.55"/>
<circle cx="425.0" cy="204.5" r="1.8" fill="#e00000" fill-opacity="0.55"/>
<circle cx="424.6" cy="202.5" r="1.8" fill="#e00000" fill-opacity="0.55"/>
<circle cx="428.9" cy="203.8" r="1.8" fill="#e00000" fill-opacity="0.55"/>
<circle cx="437.4" cy="202.5" r="1.8" fill="#e00000" fill-opacity="0.55"/>
<circle cx="436.4" cy="205.1" r="1.8" fill="#e00000" fill-opacity="0.55"/>
<circle cx="437.3" cy="204.3" r="1.8" fill="#e00000" fill-opacity="0.55"/>
<circle cx="429.1" cy="203.7" r="1.8" fill="#e00000" fill-opacity="0.55"/>
<circle cx="426.7" cy="201.8" r="1.8" fill="#e00000" fill-opacity="0.55"/>
<circle cx="427.3" cy="201.9" r="1.8" fill="#e00000" fill-opacity="0.55"/>
<circle cx="437.7" cy="203.4" r="1.8" fill="#e00000" fill-opacity="0.55"/>
<circle cx="425.2" cy="200.4" r="1.8" fill="#e00000" fill-opacity="0.55"/>
<circle cx="427.4" cy="202.5" r="1.8" fill="#e00000" fill-opacity="0.55"/>
<circle cx="421.1" cy="202.0" r="1.8" fill="#e00000" fill-opacity="0.55"/>
<circle cx="417.4" cy="205.7" r="1.8" fill="#e00000" fill-opacity="0.55"/>
<circle cx="428.2" cy="207.2" r="1.8" fill="#e00000" fill-opacity="0.55"/>
<circle cx="427.7" cy="203.1" r="1.8" fill="#e00000" fill-opacity="0.55"/>
<circle cx="437.2" cy="202.7" r="1.8" fill="#e00000" fill-opacity="0.55"/>
<circle cx="429.2" cy="202.4" r="1.8" fill="#e00000" fill-opacity="0.55"/>
<circle cx="424.7" cy="206.9" r="1.8" fill="#e00000" fill-opacity="0.55"/>
<circle cx="433.7" cy="205.9" r="1.8" fill="#e00000" fill-opacity="0.55"/>
<circle cx="425.2" cy="203.9" r="1.8" fill="#e00000" fill-opacity="0.55"/>
<circle cx="422.4" cy="206.3" r="1.8" fill="#e00000" fill-opacity="0.55"/>
<circle cx="419.4" cy="205.7" r="1.8" fill="#e00000" fill-opacity="0.55"/>
<circle cx="434.6" cy="205.4" r="1.8" fill="#e00000" fill-opacity="0.55"/>
<circle cx="422.3" cy="206.5" r="1.8" fill="#e00000" fill-opacity="0.55"/>
<circle cx="422.7" cy="202.3" r="1.8" fill="#e00000" fill-opacity="0.55"/>
<circle cx="420.6" cy="206.6" r="1.8" fill="#e00000" fill-opacity="0.55"/>
<circle cx="437.4" cy="201.2" r="1.8" fill="#e00000" fill-opacity="0.55"/>
<circle cx="422.3" cy="203.3" r="1.8" fill="#e00000" fill-opacity="0.55"/>
<circle cx="438.6" cy="203.6" r="1.8" fill="#e00000" fill-opacity="0.55"/>
<circle cx="424.6" cy="200.6" r="1.8" fill="#e00000" fill-opacity="0.55"/>
<circle cx="423.9" cy="206.6" r="1.8" fill="#e00000" fill-opacity="0.55"/>
<circle cx="438.2" cy="201.8" r="1.8" fill="#e00000" fill-opacity="0.55"/>
<circle cx="422.7" cy="202.9" r="1.8" fill="#e00000" fill-opacity="0.55"/>
<circle cx="418.5" cy="206.2" r="1.8" fill="#e00000" fill-opacity="0.55"/>
<circle cx="421.5" cy="206.5" r="1.8" fill="#e00000" fill-opacity="0.55"/>
<circle cx="419.1" cy="202.4" r="1.8" fill="#e00000" fill-opacity="0.55"/>
<circle cx="429.9" cy="201.4" r="1.8" fill="#e00000" fill-opacity="0.55"/>
<circle cx="433.9" cy="202.8" r="1.8" fill="#e00000" fill-opacity="0.55"/>
<circle cx="420.4" cy="205.8" r="1.8" fill="#e00000" fill-opacity="0.55"/>
<circle cx="431.9" cy="199.7" r="1.8" fill="#e00000" fill-opacity="0.55"/>
<circle cx="438.2" cy="203.2" r="1.8" fill="#e00000" fill-opacity="0.55"/>
<circle cx="431.6" cy="199.8" r="1.8" fill="#e00000" fill-opacity="0.55"/>
<circle cx="422.5" cy="203.3" r="1.8" fill="#e00000" fill-opacity="0.55"/>
<circle cx="433.8" cy="200.0" r="1.8" fill="#e00000" fill-opacity="0.55"/>
<circle cx="423.2" cy="200.7" r="1.8" fill="#e00000" fill-opacity="0.55"/>
<circle cx="426.2" cy="204.6" r="1.8" fill="#e00000" fill-opacity="0.55"/>
<circle cx="418.2" cy="203.5" r="1.8" fill="#e00000" fill-opacity="0.55"/>
<circle cx="431.4" cy="206.2" r="1.8" fill="#e00000" fill-opacity="0.55"/>
<circle cx="432.9" cy="202.1" r="1.8" fill="#e00000" fill-opacity="0.55"/>
<circle cx="420.4" cy="202.5" r="1.8" fill="#e00000" fill-opacity="0.55"/>
<circle cx="423.0" cy="204.5" r="1.8" fill="#e00000" fill-opacity="0.55"/>
<circle cx="428.1" cy="206.8" r="1.8" fill="#e00000" fill-opacity="0.55"/>
<circle cx="429.7" cy="200.8" r="1.8" fill="#e00000" fill-opacity="0.55"/>
<circle cx="436.9" cy="204.2" r="1.8" fill="#e00000" fill-opacity="0.55"/>
<circle cx="428.5" cy="201.6" r="1.8" fill="#e00000" fill-opacity="0.55"/>
<circle cx="418.3" cy="202.9" r="1.8" fill="#e00000" fill-opacity="0.55"/>
<circle cx="434.0" cy="201.0" r="1.8" fill="#e00000" fill-opacity="0.55"/>
<circle cx="419.4" cy="205.0" r="1.8" fill="#e00000" fill-opacity="0.55"/>
<circle cx="428.2" cy="204.5" r="1.6" fill="#b80000" fill-opacity="0.4"/>
<circle cx="429.6" cy="205.0" r="1.6" fill="#b80000" fill-opacity="0.4"/>
<circle cx="423.7" cy="205.3" r="1.6" fill="#b80000" fill-opacity="0.4"/>
<circle cx="423.0" cy="205.1" r="1.6" fill="#b80000" fill-opacity="0.4"/>
<circle cx="427.9" cy="204.0" r="1.6" fill="#b80000" fill-opacity="0.4"/>
<circle cx="431.2" cy="203.3" r="1.6" fill="#b80000" fill-opacity="0.4"/>
<circle cx="431.5" cy="204.3" r="1.6" fill="#b80000" fill-opacity="0.4"/>
<circle cx="427.5" cy="203.0" r="1.6" fill="#b80000" fill-opacity="0.4"/>
<circle cx="423.6" cy="203.5" r="1.6" fill="#b80000" fill-opacity="0.4"/>
<circle cx="426.0" cy="203.9" r="1.6" fill="#b80000" fill-opacity="0.4"/>
<circle cx="433.8" cy="203.4" r="1.6" fill="#b80000" fill-opacity="0.4"/>
<circle cx="430.1" cy="202.4" r="1.6" fill="#b80000" fill-opacity="0.4"/>
<circle cx="423.7" cy="203.8" r="1.6" fill="#b80000" fill-opacity="0.4"/>
<circle cx="427.7" cy="202.4" r="1.6" fill="#b80000" fill-opacity="0.4"/>
<circle cx="432.7" cy="202.5" r="1.6" fill="#b80000" fill-opacity="0.4"/>
<circle cx="429.6" cy="201.7" r="1.6" fill="#b80000" fill-opacity="0.4"/>
<circle cx="427.0" cy="204.2" r="1.6" fill="#b80000" fill-opacity="0.4"/>
<circle cx="428.0" cy="204.5" r="1.6" fill="#b80000" fill-opacity="0.4"/>
<circle cx="428.4" cy="203.9" r="1.6" fill="#b80000" fill-opacity="0.4"/>
<circle cx="420.9" cy="203.9" r="1.6" fill="#b80000" fill-opacity="0.4"/>
<circle cx="420.5" cy="205.1" r="1.6" fill="#b80000" fill-opacity="0.4"/>
<circle cx="428.5" cy="203.4" r="1.6" fill="#b80000" fill-opacity="0.4"/>
<circle cx="423.3" cy="203.5" r="1.6" fill="#b80000" fill-opacity="0.4"/>
<circle cx="432.1" cy="204.5" r="1.6" fill="#b80000" fill-opacity="0.4"/>
<circle cx="426.9" cy="205.3" r="1.6" fill="#b80000" fill-opacity="0.4"/>
<circle cx="422.5" cy="202.8" r="1.6" fill="#b80000" fill-opacity="0.4"/>
<circle cx="424.8" cy="203.0" r="1.6" fill="#b80000" fill-opacity="0.4"/>
<circle cx="424.4" cy="204.4" r="1.6" fill="#b80000" fill-opacity="0.4"/>
<circle cx="433.7" cy="202.6" r="1.6" fill="#b80000" fill-opacity="0.4"/>
<circle cx="427.3" cy="204.2" r="1.6" fill="#b80000" fill-opacity="0.4"/>
<circle cx="440.5" cy="196.6" r="1.7" fill="none" stroke="#ff2020" stroke-width="0.8"/>
<circle cx="442.1" cy="195.6" r="1.7" fill="none" stroke="#ff2020" stroke-width="0.8"/>
<circle cx="443.7" cy="194.6" r="1.7" fill="none" stroke="#ff2020" stroke-width="0.8"/>
<path d="M297.9 205.2L300.5 205.2L300.5 206.9L302.2 206.9L302.2 209.5L300.5 209.5L300.5 211.2L297.9 211.2L297.9 209.5L296.2 209.5L296.2 206.9L297.9 206.9Z" fill="#000" stroke="#008000" stroke-width="1.6" stroke-linejoin="miter"/>
<rect x="310.0" y="206.2" width="6.0" height="6.0" fill="#000" stroke="#008000" stroke-width="1.8" stroke-linejoin="miter"/>
<path d="M322.1 205.6L324.7 205.6L324.7 207.3L326.4 207.3L326.4 209.9L324.7 209.9L324.7 211.6L322.1 211.6L322.1 209.9L320.4 209.9L320.4 207.3L322.1 207.3Z" fill="#000" stroke="#0000ff" stroke-width="1.6" stroke-linejoin="miter"/>
<rect x="330.0" y="207.0" width="6.0" height="6.0" fill="#000" stroke="#0000ff" stroke-width="1.8" stroke-linejoin="miter"/>
<rect x="358.2" y="210.2" width="4.4" height="4.4" fill="#000" stroke="#c800c8" stroke-width="2.0" stroke-linejoin="miter"/>
<path d="M354.8 205.4L357.6 205.4L357.6 207.3L359.5 207.3L359.5 210.1L357.6 210.1L357.6 212.0L354.8 212.0L354.8 210.1L352.9 210.1L352.9 207.3L354.8 207.3Z" fill="#000" stroke="#c800c8" stroke-width="1.9" stroke-linejoin="miter"/>
<path d="M373.0 201.5L379.0 201.5L376.0 207.5Z" fill="#000" stroke="#008000" stroke-width="2.0" stroke-linejoin="miter"/>
<path d="M399.2 199.4L406.0 199.4L402.6 206.2Z" fill="#000" stroke="#c800c8" stroke-width="2.0" stroke-linejoin="miter"/>
<path d="M429.7 199.8L432.3 199.8L432.3 201.5L434.0 201.5L434.0 204.1L432.3 204.1L432.3 205.8L429.7 205.8L429.7 204.1L428.0 204.1L428.0 201.5L429.7 201.5Z" fill="#000" stroke="#ff0000" stroke-width="1.8" stroke-linejoin="miter"/>
<rect x="434.7" y="199.5" width="5.0" height="5.0" fill="#000" stroke="#ff0000" stroke-width="2.0" stroke-linejoin="miter"/>
<path d="M447.1 190.7L452.9 190.7L450.0 196.5Z" fill="#000" stroke="#ff0000" stroke-width="2.0" stroke-linejoin="miter"/>
</g>
<rect x="47.7" y="23.2" width="113.4" height="138.4" rx="2.2" fill="#fafafa" fill-opacity="0.85" stroke="#dcdcdc" stroke-opacity="0.7" stroke-width="0.9"/>
<circle cx="62.9" cy="33.3" r="2.4" fill="#ff0000" fill-opacity="1"/>
<text x="83.7" y="37.3" font-size="11.35" fill="#151515">Layer 1</text>
<circle cx="62.9" cy="50.2" r="2.4" fill="#800080" fill-opacity="1"/>
<text x="83.7" y="54.2" font-size="11.35" fill="#151515">Layer 2</text>
<circle cx="62.9" cy="67.2" r="2.4" fill="#0000ff" fill-opacity="1"/>
<text x="83.7" y="71.2" font-size="11.35" fill="#151515">Layer 3</text>
<circle cx="62.9" cy="84.1" r="2.4" fill="#008000" fill-opacity="1"/>
<text x="83.7" y="88.1" font-size="11.35" fill="#151515">Layer 4</text>
<circle cx="62.9" cy="101.1" r="2.4" fill="#ffa500" fill-opacity="1"/>
<text x="83.7" y="105.1" font-size="11.35" fill="#151515">Layer 5</text>
<text x="83.7" y="122.0" font-size="11.35" fill="#151515">Patience=5</text>
<text x="83.7" y="138.9" font-size="11.35" fill="#151515">Patience=8</text>
<text x="83.7" y="155.9" font-size="11.35" fill="#151515">Patience=12</text>
<path d="M58.8 114.3L67.0 114.3L62.9 122.5Z" fill="#000"/>
<rect x="58.9" y="131.4" width="8.1" height="8.1" fill="#000"/>
<path d="M61.2 147.8L64.6 147.8L64.6 150.2L67.0 150.2L67.0 153.6L64.6 153.6L64.6 156.0L61.2 156.0L61.2 153.6L58.8 153.6L58.8 150.2L61.2 150.2Z" fill="#000"/>
<rect x="471.2" y="17" width="12.7" height="268.2" fill="url(#Oranges)"/>
<rect x="484.8" y="17" width="8.0" height="268.2" fill="url(#Greens)"/>
<rect x="493.9" y="17" width="7.7" height="268.2" fill="url(#Blues)"/>
<rect x="502.6" y="17" width="8.0" height="268.2" fill="url(#Purples)"/>
<rect x="511.5" y="17" width="8.8" height="268.2" fill="url(#Reds)"/>
<path d="M470.9 285.0L520.8 285.0L520.8 17" fill="none" stroke="#d4d4d4" stroke-width="0.8"/>
<line x1="521.8" y1="285.0" x2="523.8" y2="285.0" stroke="#555" stroke-width="0.7"/>
<text transform="translate(526,288.2) scale(0.93,1)" font-size="7.5" fill="#555">0</text>
<line x1="521.8" y1="239.5" x2="523.8" y2="239.5" stroke="#555" stroke-width="0.7"/>
<text transform="translate(526,242.7) scale(0.93,1)" font-size="7.5" fill="#555">1000</text>
<line x1="521.8" y1="194.0" x2="523.8" y2="194.0" stroke="#555" stroke-width="0.7"/>
<text transform="translate(526,197.2) scale(0.93,1)" font-size="7.5" fill="#555">2000</text>
<line x1="521.8" y1="148.6" x2="523.8" y2="148.6" stroke="#555" stroke-width="0.7"/>
<text transform="translate(526,151.8) scale(0.93,1)" font-size="7.5" fill="#555">3000</text>
<line x1="521.8" y1="103.1" x2="523.8" y2="103.1" stroke="#555" stroke-width="0.7"/>
<text transform="translate(526,106.3) scale(0.93,1)" font-size="7.5" fill="#555">4000</text>
<line x1="521.8" y1="57.6" x2="523.8" y2="57.6" stroke="#555" stroke-width="0.7"/>
<text transform="translate(526,60.8) scale(0.93,1)" font-size="7.5" fill="#555">5000</text>
<text x="495.2" y="12.7" font-size="10.7" fill="#1a1a1a" text-anchor="middle">Iterations</text>
</svg>
</body></html>
